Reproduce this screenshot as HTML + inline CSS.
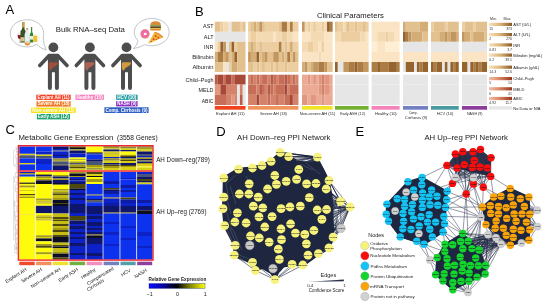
<!DOCTYPE html>
<html><head><meta charset="utf-8"><title>Figure</title>
<style>
html,body{margin:0;padding:0;background:#fff;}
body{width:550px;height:305px;overflow:hidden;}
svg{display:block;font-family:"Liberation Sans", Arial, sans-serif;}
</style></head><body>
<svg width="550" height="305" viewBox="0 0 550 305">
<rect width="550" height="305" fill="#fff"/>
<text x="5.5" y="14.4" font-size="13" text-anchor="start" fill="#000" >A</text>
<text x="195" y="16.4" font-size="13" text-anchor="start" fill="#000" >B</text>
<text x="5.6" y="134" font-size="13" text-anchor="start" fill="#000" >C</text>
<text x="216.2" y="136" font-size="13" text-anchor="start" fill="#000" >D</text>
<text x="355.6" y="136" font-size="13" text-anchor="start" fill="#000" >E</text>
<text x="55.7" y="31.6" font-size="7.75" text-anchor="start" fill="#1a1a1a" textLength="69.2" lengthAdjust="spacingAndGlyphs" >Bulk RNA–seq Data</text>
<text x="317" y="17.6" font-size="7.75" text-anchor="start" fill="#1a1a1a" textLength="67" lengthAdjust="spacingAndGlyphs" >Clinical Parameters</text>
<text x="18.4" y="140.4" font-size="7.75" text-anchor="start" fill="#1a1a1a" textLength="95" lengthAdjust="spacingAndGlyphs" >Metabolic Gene Expression</text>
<text x="117" y="140.4" font-size="6.5" text-anchor="start" fill="#1a1a1a" textLength="40.6" lengthAdjust="spacingAndGlyphs" >(3558 Genes)</text>
<text x="237" y="140.4" font-size="7.75" text-anchor="start" fill="#1a1a1a" textLength="93.5" lengthAdjust="spacingAndGlyphs" >AH Down–reg PPI Network</text>
<text x="424.4" y="140.4" font-size="7.75" text-anchor="start" fill="#1a1a1a" textLength="83.6" lengthAdjust="spacingAndGlyphs" >AH Up–reg PPI Network</text>
<text x="156.2" y="162.1" font-size="6.3" text-anchor="start" fill="#1a1a1a" textLength="53.6" lengthAdjust="spacingAndGlyphs" >AH Down–reg(789)</text>
<text x="156.2" y="214.2" font-size="6.3" text-anchor="start" fill="#1a1a1a" textLength="50.4" lengthAdjust="spacingAndGlyphs" >AH Up–reg (2769)</text>
<g>
<circle cx="53.4" cy="47.4" r="4.9" fill="#4d4d4d"/>
<path d="M49.199999999999996 55.6 L39.8 65.5 M57.6 55.6 L67.0 65.5" stroke="#4d4d4d" stroke-width="3.6" stroke-linecap="round" fill="none"/>
<path d="M47.9 55.2 Q47.9 53.7 49.699999999999996 53.7 L57.1 53.7 Q58.9 53.7 58.9 55.2 L58.9 88 Q58.9 90 56.9 90 Q54.9 90 54.9 88 L54.9 72.2 L51.9 72.2 L51.9 88 Q51.9 90 49.9 90 Q47.9 90 47.9 88 Z" fill="#4d4d4d"/>
<path d="M48.6 63.4 Q48.699999999999996 62.2 50.4 62.2 L56.8 62.3 Q58.3 62.5 57.9 63.9 Q56.0 66 53.0 67.4 Q51.8 68.4 51.199999999999996 69.8 Q50.199999999999996 71 49.3 69.8 Q48.4 67 48.6 63.4 Z" fill="#9e4f3c"/>
</g>
<g>
<circle cx="89.9" cy="47.4" r="4.9" fill="#4d4d4d"/>
<path d="M85.7 55.6 L76.30000000000001 65.5 M94.10000000000001 55.6 L103.5 65.5" stroke="#4d4d4d" stroke-width="3.6" stroke-linecap="round" fill="none"/>
<path d="M84.4 55.2 Q84.4 53.7 86.2 53.7 L93.60000000000001 53.7 Q95.4 53.7 95.4 55.2 L95.4 88 Q95.4 90 93.4 90 Q91.4 90 91.4 88 L91.4 72.2 L88.4 72.2 L88.4 88 Q88.4 90 86.4 90 Q84.4 90 84.4 88 Z" fill="#4d4d4d"/>
<path d="M85.10000000000001 63.4 Q85.2 62.2 86.9 62.2 L93.30000000000001 62.3 Q94.80000000000001 62.5 94.4 63.9 Q92.5 66 89.5 67.4 Q88.30000000000001 68.4 87.7 69.8 Q86.7 71 85.80000000000001 69.8 Q84.9 67 85.10000000000001 63.4 Z" fill="#b06252"/>
</g>
<g>
<circle cx="126.5" cy="47.4" r="4.9" fill="#4d4d4d"/>
<path d="M122.3 55.6 L112.9 65.5 M130.7 55.6 L140.1 65.5" stroke="#4d4d4d" stroke-width="3.6" stroke-linecap="round" fill="none"/>
<path d="M121.0 55.2 Q121.0 53.7 122.8 53.7 L130.2 53.7 Q132.0 53.7 132.0 55.2 L132.0 88 Q132.0 90 130.0 90 Q128.0 90 128.0 88 L128.0 72.2 L125.0 72.2 L125.0 88 Q125.0 90 123.0 90 Q121.0 90 121.0 88 Z" fill="#4d4d4d"/>
<path d="M121.7 63.4 Q121.8 62.2 123.5 62.2 L129.9 62.3 Q131.4 62.5 131.0 63.9 Q129.1 66 126.1 67.4 Q124.9 68.4 124.3 69.8 Q123.3 71 122.4 69.8 Q121.5 67 121.7 63.4 Z" fill="#d09a3c"/>
</g>
<path d="M36.5 44.5 A16.8 13.6 0 1 1 43.2 36.9 Q43.6 45 46.2 50 Q40.5 48.4 36.5 44.5 Z" fill="#fff" stroke="#858b98" stroke-width="0.5"/>
<path d="M138 40.6 A17.5 13.7 0 1 1 144.8 44.7 Q139.5 47.6 133.5 48.6 Q137.4 45 138 40.6 Z" fill="#fff" stroke="#858b98" stroke-width="0.5"/>
<g>
<path d="M17.6 35 Q17.6 39 19.7 39 Q21.8 39 21.8 35 Z" fill="#8a1c2c"/><path d="M17.6 32.9 L21.8 32.9 L21.8 35.1 L17.6 35.1 Z" fill="#ece4e6"/><path d="M19.7 39 L19.7 42.3 M18.4 42.4 L21 42.4" stroke="#b9b9b9" stroke-width="0.5"/>
<path d="M22.4 22 L24.3 22 L24.3 27.5 Q24.4 29.6 25.6 31 L25.6 42.6 L20.5 42.6 L20.5 31 Q22.3 29.6 22.4 27.5 Z" fill="#385221"/><rect x="22.3" y="21.9" width="2.1" height="5.6" fill="#c9a545"/><rect x="20.5" y="37.2" width="4" height="4.2" fill="#d9c48a"/>
<path d="M26.2 29.2 L28.2 29.2 L28.2 31.5 Q29.8 33 29.8 35 L29.8 42.8 L24.7 42.8 L24.7 35 Q24.7 33 26.2 31.5 Z" fill="#e9f0f4" stroke="#c9d3da" stroke-width="0.3"/><circle cx="27.2" cy="28.8" r="1.1" fill="#d9a04a"/>
<path d="M31 27 L32.2 27 L32.2 32 Q33.3 33.4 33.3 35 L33.3 42.4 L29.9 42.4 L29.9 35 Q29.9 33.4 31 32 Z" fill="#2f8a3a"/><rect x="29.9" y="36" width="3.4" height="3.6" fill="#e8efe2"/>
<rect x="33.4" y="35" width="3.9" height="7" rx="0.6" fill="#efc22e"/><rect x="33.2" y="33.8" width="4.3" height="1.9" rx="0.8" fill="#fbf6e6"/><path d="M37.3 36.4 Q39.2 36.4 39.2 38.4 Q39.2 40.4 37.3 40.4" fill="none" stroke="#e9e4d2" stroke-width="0.7"/>
<ellipse cx="27.4" cy="43.6" rx="2.7" ry="2" fill="#e08a2c"/><ellipse cx="27.4" cy="42.7" rx="2.2" ry="0.8" fill="#f3dcc0"/>
</g>
<g>
<path d="M150.3 25.4 Q150.3 21.2 155.6 21.2 Q160.9 21.2 160.9 25.4 Z" fill="#d98a3a"/><rect x="150.1" y="25.3" width="11" height="1.3" fill="#5b9a33"/><rect x="150.3" y="26.5" width="10.6" height="1.9" fill="#6b3a22"/><rect x="150.1" y="28.1" width="11" height="0.8" fill="#e9c534"/><path d="M150.3 28.9 L160.9 28.9 L160.9 29.8 Q160.9 30.6 160 30.6 L151.2 30.6 Q150.3 30.6 150.3 29.8 Z" fill="#d98a3a"/>
<circle cx="145" cy="34" r="4.7" fill="#e3a35e"/><circle cx="145" cy="33.8" r="4.2" fill="#f06aa8"/><ellipse cx="145.2" cy="33.9" rx="1.5" ry="1.2" fill="#fff"/>
<path d="M154.4 32.2 Q159.5 33.2 163 37.4 L148 43.7 Z" fill="#f2b33a"/><path d="M154.4 32.2 Q159.5 33.2 163 37.4" fill="none" stroke="#d98a2e" stroke-width="1.1"/><circle cx="155.6" cy="36" r="0.9" fill="#d8392b"/><circle cx="158.3" cy="37.6" r="0.9" fill="#d8392b"/><circle cx="153.6" cy="39.2" r="0.9" fill="#d8392b"/><circle cx="151.3" cy="41.6" r="0.7" fill="#d8392b"/><circle cx="156.4" cy="39.3" r="0.6" fill="#d8392b"/>
</g>
<rect x="36.3" y="94.7" width="34.4" height="5.2" fill="#f23d1f"/>
<text x="53.5" y="98.65" font-size="4.5" text-anchor="middle" fill="#fff" font-weight="bold" textLength="32.0" lengthAdjust="spacingAndGlyphs" >Explant AH (11)</text>
<rect x="36.5" y="101.3" width="34.2" height="5.3" fill="#f37a22"/>
<text x="53.6" y="105.35" font-size="4.5" text-anchor="middle" fill="#fff" font-weight="bold" textLength="31.8" lengthAdjust="spacingAndGlyphs" >Severe AH (18)</text>
<rect x="31.1" y="107.6" width="44.7" height="5.4" fill="#f6e21a"/>
<text x="53.45" y="111.75" font-size="4.5" text-anchor="middle" fill="#fff" font-weight="bold" textLength="42.3" lengthAdjust="spacingAndGlyphs" >Non-severe AH (11)</text>
<rect x="36.9" y="114.0" width="33.1" height="5.4" fill="#22a273"/>
<text x="53.45" y="118.15" font-size="4.5" text-anchor="middle" fill="#fff" font-weight="bold" textLength="30.7" lengthAdjust="spacingAndGlyphs" >Early ASH (12)</text>
<rect x="75.4" y="94.7" width="28.5" height="5.2" fill="#f77fbe"/>
<text x="89.65" y="98.65" font-size="4.5" text-anchor="middle" fill="#fff" font-weight="bold" textLength="26.1" lengthAdjust="spacingAndGlyphs" >Healthy (10)</text>
<rect x="116.1" y="94.7" width="21.5" height="5.2" fill="#2a9fa8"/>
<text x="126.85" y="98.65" font-size="4.5" text-anchor="middle" fill="#fff" font-weight="bold" textLength="19.1" lengthAdjust="spacingAndGlyphs" >HCV (10)</text>
<rect x="116.1" y="101.2" width="21.5" height="5.2" fill="#8a2fc2"/>
<text x="126.85" y="105.15" font-size="4.5" text-anchor="middle" fill="#fff" font-weight="bold" textLength="19.1" lengthAdjust="spacingAndGlyphs" >NASH (9)</text>
<rect x="104.4" y="107.3" width="44.2" height="5.7" fill="#2f5fc4"/>
<text x="126.5" y="111.75" font-size="4.5" text-anchor="middle" fill="#fff" font-weight="bold" textLength="41.8" lengthAdjust="spacingAndGlyphs" >Comp. Cirrhosis (9)</text>
<filter id="bl" x="-5%" y="-5%" width="110%" height="110%"><feGaussianBlur stdDeviation="0.45"/></filter><g filter="url(#bl)">
<rect x="214.8" y="21.7" width="5.63" height="10.15" fill="#e3c18f"/>
<rect x="220.38" y="21.7" width="2.84" height="10.15" fill="#eccea1"/>
<rect x="223.17" y="21.7" width="5.63" height="10.15" fill="#f4dab2"/>
<rect x="228.75" y="21.7" width="2.84" height="10.15" fill="#e6e6e6"/>
<rect x="231.55" y="21.7" width="8.42" height="10.15" fill="#e3c18f"/>
<rect x="239.92" y="21.7" width="2.84" height="10.15" fill="#eccea1"/>
<rect x="242.71" y="21.7" width="2.84" height="10.15" fill="#e3c18f"/>
<rect x="214.8" y="31.8" width="30.75" height="10.05" fill="#e6e6e6"/>
<rect x="214.8" y="41.8" width="2.84" height="10.15" fill="#fae4c3"/>
<rect x="217.59" y="41.8" width="2.84" height="10.15" fill="#eccea1"/>
<rect x="220.38" y="41.8" width="2.84" height="10.15" fill="#94642d"/>
<rect x="223.17" y="41.8" width="2.84" height="10.15" fill="#c1965e"/>
<rect x="225.96" y="41.8" width="2.84" height="10.15" fill="#e6e6e6"/>
<rect x="228.75" y="41.8" width="2.84" height="10.15" fill="#e3c18f"/>
<rect x="231.55" y="41.8" width="2.84" height="10.15" fill="#94642d"/>
<rect x="234.34" y="41.8" width="2.84" height="10.15" fill="#eccea1"/>
<rect x="237.13" y="41.8" width="8.42" height="10.15" fill="#e3c18f"/>
<rect x="214.8" y="51.9" width="2.84" height="10.15" fill="#d3ac76"/>
<rect x="217.59" y="51.9" width="5.63" height="10.15" fill="#ab7d44"/>
<rect x="223.17" y="51.9" width="2.84" height="10.15" fill="#d3ac76"/>
<rect x="225.96" y="51.9" width="2.84" height="10.15" fill="#c1965e"/>
<rect x="228.75" y="51.9" width="2.84" height="10.15" fill="#e3c18f"/>
<rect x="231.55" y="51.9" width="2.84" height="10.15" fill="#d3ac76"/>
<rect x="234.34" y="51.9" width="2.84" height="10.15" fill="#94642d"/>
<rect x="237.13" y="51.9" width="8.42" height="10.15" fill="#e3c18f"/>
<rect x="214.8" y="62.0" width="8.42" height="9.95" fill="#e3c18f"/>
<rect x="223.17" y="62.0" width="2.84" height="9.95" fill="#fae4c3"/>
<rect x="225.96" y="62.0" width="2.84" height="9.95" fill="#e6e6e6"/>
<rect x="228.75" y="62.0" width="2.84" height="9.95" fill="#eccea1"/>
<rect x="231.55" y="62.0" width="5.63" height="9.95" fill="#d3ac76"/>
<rect x="237.13" y="62.0" width="8.42" height="9.95" fill="#e3c18f"/>
<rect x="214.8" y="74.7" width="2.84" height="9.95" fill="#b75b46"/>
<rect x="217.59" y="74.7" width="5.63" height="9.95" fill="#a64937"/>
<rect x="223.17" y="74.7" width="2.84" height="9.95" fill="#c66e58"/>
<rect x="225.96" y="74.7" width="5.63" height="9.95" fill="#a64937"/>
<rect x="231.55" y="74.7" width="2.84" height="9.95" fill="#c66e58"/>
<rect x="234.34" y="74.7" width="11.21" height="9.95" fill="#a64937"/>
<rect x="214.8" y="84.6" width="5.63" height="10.25" fill="#e1967f"/>
<rect x="220.38" y="84.6" width="5.63" height="10.25" fill="#a64937"/>
<rect x="225.96" y="84.6" width="11.21" height="10.25" fill="#d4826b"/>
<rect x="237.13" y="84.6" width="2.84" height="10.25" fill="#e6e6e6"/>
<rect x="239.92" y="84.6" width="2.84" height="10.25" fill="#d4826b"/>
<rect x="242.71" y="84.6" width="2.84" height="10.25" fill="#e6e6e6"/>
<rect x="214.8" y="94.8" width="11.21" height="10.25" fill="#c66e58"/>
<rect x="225.96" y="94.8" width="5.63" height="10.25" fill="#d4826b"/>
<rect x="231.55" y="94.8" width="2.84" height="10.25" fill="#e1967f"/>
<rect x="234.34" y="94.8" width="2.84" height="10.25" fill="#d4826b"/>
<rect x="237.13" y="94.8" width="2.84" height="10.25" fill="#e6e6e6"/>
<rect x="239.92" y="94.8" width="2.84" height="10.25" fill="#b75b46"/>
<rect x="242.71" y="94.8" width="2.84" height="10.25" fill="#e6e6e6"/>
<rect x="214.8" y="106" width="30.7" height="3.7" fill="#f0431f"/>
<rect x="248.1" y="21.7" width="2.84" height="10.15" fill="#eccea1"/>
<rect x="250.89" y="21.7" width="2.84" height="10.15" fill="#e3c18f"/>
<rect x="253.69" y="21.7" width="2.84" height="10.15" fill="#d3ac76"/>
<rect x="256.48" y="21.7" width="2.84" height="10.15" fill="#e3c18f"/>
<rect x="259.28" y="21.7" width="2.84" height="10.15" fill="#c1965e"/>
<rect x="262.07" y="21.7" width="2.84" height="10.15" fill="#e3c18f"/>
<rect x="264.87" y="21.7" width="14.02" height="10.15" fill="#eccea1"/>
<rect x="278.84" y="21.7" width="2.84" height="10.15" fill="#e3c18f"/>
<rect x="281.63" y="21.7" width="5.64" height="10.15" fill="#ab7d44"/>
<rect x="287.22" y="21.7" width="2.84" height="10.15" fill="#eccea1"/>
<rect x="290.02" y="21.7" width="2.84" height="10.15" fill="#ab7d44"/>
<rect x="292.81" y="21.7" width="5.64" height="10.15" fill="#eccea1"/>
<rect x="248.1" y="31.8" width="2.84" height="10.05" fill="#f4dab2"/>
<rect x="250.89" y="31.8" width="5.64" height="10.05" fill="#eccea1"/>
<rect x="256.48" y="31.8" width="16.82" height="10.05" fill="#f4dab2"/>
<rect x="273.25" y="31.8" width="2.84" height="10.05" fill="#fae4c3"/>
<rect x="276.04" y="31.8" width="5.64" height="10.05" fill="#f4dab2"/>
<rect x="281.63" y="31.8" width="5.64" height="10.05" fill="#eccea1"/>
<rect x="287.22" y="31.8" width="5.64" height="10.05" fill="#f4dab2"/>
<rect x="292.81" y="31.8" width="5.64" height="10.05" fill="#fae4c3"/>
<rect x="248.1" y="41.8" width="2.84" height="10.15" fill="#e3c18f"/>
<rect x="250.89" y="41.8" width="2.84" height="10.15" fill="#d3ac76"/>
<rect x="253.69" y="41.8" width="2.84" height="10.15" fill="#e3c18f"/>
<rect x="256.48" y="41.8" width="2.84" height="10.15" fill="#eccea1"/>
<rect x="259.28" y="41.8" width="2.84" height="10.15" fill="#e3c18f"/>
<rect x="262.07" y="41.8" width="16.82" height="10.15" fill="#eccea1"/>
<rect x="278.84" y="41.8" width="2.84" height="10.15" fill="#ab7d44"/>
<rect x="281.63" y="41.8" width="2.84" height="10.15" fill="#eccea1"/>
<rect x="284.43" y="41.8" width="2.84" height="10.15" fill="#e3c18f"/>
<rect x="287.22" y="41.8" width="2.84" height="10.15" fill="#eccea1"/>
<rect x="290.02" y="41.8" width="2.84" height="10.15" fill="#d3ac76"/>
<rect x="292.81" y="41.8" width="5.64" height="10.15" fill="#eccea1"/>
<rect x="248.1" y="51.9" width="2.84" height="10.15" fill="#c1965e"/>
<rect x="250.89" y="51.9" width="5.64" height="10.15" fill="#d3ac76"/>
<rect x="256.48" y="51.9" width="2.84" height="10.15" fill="#94642d"/>
<rect x="259.28" y="51.9" width="2.84" height="10.15" fill="#e3c18f"/>
<rect x="262.07" y="51.9" width="2.84" height="10.15" fill="#d3ac76"/>
<rect x="264.87" y="51.9" width="2.84" height="10.15" fill="#c1965e"/>
<rect x="267.66" y="51.9" width="5.64" height="10.15" fill="#e3c18f"/>
<rect x="273.25" y="51.9" width="5.64" height="10.15" fill="#c1965e"/>
<rect x="278.84" y="51.9" width="2.84" height="10.15" fill="#e3c18f"/>
<rect x="281.63" y="51.9" width="2.84" height="10.15" fill="#d3ac76"/>
<rect x="284.43" y="51.9" width="2.84" height="10.15" fill="#e3c18f"/>
<rect x="287.22" y="51.9" width="2.84" height="10.15" fill="#ab7d44"/>
<rect x="290.02" y="51.9" width="2.84" height="10.15" fill="#e3c18f"/>
<rect x="292.81" y="51.9" width="2.84" height="10.15" fill="#c1965e"/>
<rect x="295.61" y="51.9" width="2.84" height="10.15" fill="#e3c18f"/>
<rect x="248.1" y="62.0" width="5.64" height="9.95" fill="#e3c18f"/>
<rect x="253.69" y="62.0" width="2.84" height="9.95" fill="#eccea1"/>
<rect x="256.48" y="62.0" width="2.84" height="9.95" fill="#e3c18f"/>
<rect x="259.28" y="62.0" width="2.84" height="9.95" fill="#eccea1"/>
<rect x="262.07" y="62.0" width="2.84" height="9.95" fill="#e3c18f"/>
<rect x="264.87" y="62.0" width="5.64" height="9.95" fill="#eccea1"/>
<rect x="270.46" y="62.0" width="2.84" height="9.95" fill="#e3c18f"/>
<rect x="273.25" y="62.0" width="2.84" height="9.95" fill="#eccea1"/>
<rect x="276.04" y="62.0" width="2.84" height="9.95" fill="#e3c18f"/>
<rect x="278.84" y="62.0" width="5.64" height="9.95" fill="#eccea1"/>
<rect x="284.43" y="62.0" width="2.84" height="9.95" fill="#e3c18f"/>
<rect x="287.22" y="62.0" width="11.23" height="9.95" fill="#eccea1"/>
<rect x="248.1" y="74.7" width="2.84" height="9.95" fill="#d4826b"/>
<rect x="250.89" y="74.7" width="2.84" height="9.95" fill="#c66e58"/>
<rect x="253.69" y="74.7" width="2.84" height="9.95" fill="#d4826b"/>
<rect x="256.48" y="74.7" width="2.84" height="9.95" fill="#c66e58"/>
<rect x="259.28" y="74.7" width="2.84" height="9.95" fill="#d4826b"/>
<rect x="262.07" y="74.7" width="5.64" height="9.95" fill="#c66e58"/>
<rect x="267.66" y="74.7" width="2.84" height="9.95" fill="#d4826b"/>
<rect x="270.46" y="74.7" width="2.84" height="9.95" fill="#b75b46"/>
<rect x="273.25" y="74.7" width="2.84" height="9.95" fill="#c66e58"/>
<rect x="276.04" y="74.7" width="2.84" height="9.95" fill="#d4826b"/>
<rect x="278.84" y="74.7" width="5.64" height="9.95" fill="#c66e58"/>
<rect x="284.43" y="74.7" width="2.84" height="9.95" fill="#b75b46"/>
<rect x="287.22" y="74.7" width="2.84" height="9.95" fill="#c66e58"/>
<rect x="290.02" y="74.7" width="2.84" height="9.95" fill="#d4826b"/>
<rect x="292.81" y="74.7" width="2.84" height="9.95" fill="#c66e58"/>
<rect x="295.61" y="74.7" width="2.84" height="9.95" fill="#d4826b"/>
<rect x="248.1" y="84.6" width="8.43" height="10.25" fill="#c66e58"/>
<rect x="256.48" y="84.6" width="2.84" height="10.25" fill="#d4826b"/>
<rect x="259.28" y="84.6" width="2.84" height="10.25" fill="#b75b46"/>
<rect x="262.07" y="84.6" width="2.84" height="10.25" fill="#c66e58"/>
<rect x="264.87" y="84.6" width="2.84" height="10.25" fill="#d4826b"/>
<rect x="267.66" y="84.6" width="2.84" height="10.25" fill="#b75b46"/>
<rect x="270.46" y="84.6" width="2.84" height="10.25" fill="#c66e58"/>
<rect x="273.25" y="84.6" width="2.84" height="10.25" fill="#d4826b"/>
<rect x="276.04" y="84.6" width="8.43" height="10.25" fill="#c66e58"/>
<rect x="284.43" y="84.6" width="2.84" height="10.25" fill="#a64937"/>
<rect x="287.22" y="84.6" width="2.84" height="10.25" fill="#d4826b"/>
<rect x="290.02" y="84.6" width="8.43" height="10.25" fill="#c66e58"/>
<rect x="248.1" y="94.8" width="8.43" height="10.25" fill="#d4826b"/>
<rect x="256.48" y="94.8" width="2.84" height="10.25" fill="#a64937"/>
<rect x="259.28" y="94.8" width="8.43" height="10.25" fill="#d4826b"/>
<rect x="267.66" y="94.8" width="2.84" height="10.25" fill="#c66e58"/>
<rect x="270.46" y="94.8" width="5.64" height="10.25" fill="#d4826b"/>
<rect x="276.04" y="94.8" width="2.84" height="10.25" fill="#c66e58"/>
<rect x="278.84" y="94.8" width="5.64" height="10.25" fill="#d4826b"/>
<rect x="284.43" y="94.8" width="5.64" height="10.25" fill="#c66e58"/>
<rect x="290.02" y="94.8" width="2.84" height="10.25" fill="#a64937"/>
<rect x="292.81" y="94.8" width="5.64" height="10.25" fill="#d4826b"/>
<rect x="248.1" y="106" width="50.3" height="3.7" fill="#f0935a"/>
<rect x="302.0" y="21.7" width="2.83" height="10.15" fill="#c1965e"/>
<rect x="304.78" y="21.7" width="2.83" height="10.15" fill="#f4dab2"/>
<rect x="307.56" y="21.7" width="2.83" height="10.15" fill="#eccea1"/>
<rect x="310.35" y="21.7" width="2.83" height="10.15" fill="#f4dab2"/>
<rect x="313.13" y="21.7" width="2.83" height="10.15" fill="#eccea1"/>
<rect x="315.91" y="21.7" width="5.61" height="10.15" fill="#f4dab2"/>
<rect x="321.47" y="21.7" width="2.83" height="10.15" fill="#eccea1"/>
<rect x="324.25" y="21.7" width="2.83" height="10.15" fill="#f4dab2"/>
<rect x="327.04" y="21.7" width="2.83" height="10.15" fill="#94642d"/>
<rect x="329.82" y="21.7" width="2.83" height="10.15" fill="#ab7d44"/>
<rect x="302.0" y="31.8" width="8.4" height="10.05" fill="#fae4c3"/>
<rect x="310.35" y="31.8" width="13.96" height="10.05" fill="#f4dab2"/>
<rect x="324.25" y="31.8" width="8.4" height="10.05" fill="#fae4c3"/>
<rect x="302.0" y="41.8" width="5.61" height="10.15" fill="#f4dab2"/>
<rect x="307.56" y="41.8" width="5.61" height="10.15" fill="#eccea1"/>
<rect x="313.13" y="41.8" width="5.61" height="10.15" fill="#f4dab2"/>
<rect x="318.69" y="41.8" width="2.83" height="10.15" fill="#fae4c3"/>
<rect x="321.47" y="41.8" width="2.83" height="10.15" fill="#eccea1"/>
<rect x="324.25" y="41.8" width="8.4" height="10.15" fill="#fae4c3"/>
<rect x="302.0" y="51.9" width="16.74" height="10.15" fill="#fae4c3"/>
<rect x="318.69" y="51.9" width="2.83" height="10.15" fill="#f4dab2"/>
<rect x="321.47" y="51.9" width="11.18" height="10.15" fill="#fae4c3"/>
<rect x="302.0" y="62.0" width="2.83" height="9.95" fill="#d3ac76"/>
<rect x="304.78" y="62.0" width="2.83" height="9.95" fill="#c1965e"/>
<rect x="307.56" y="62.0" width="2.83" height="9.95" fill="#e3c18f"/>
<rect x="310.35" y="62.0" width="2.83" height="9.95" fill="#d3ac76"/>
<rect x="313.13" y="62.0" width="5.61" height="9.95" fill="#c1965e"/>
<rect x="318.69" y="62.0" width="5.61" height="9.95" fill="#ab7d44"/>
<rect x="324.25" y="62.0" width="2.83" height="9.95" fill="#c1965e"/>
<rect x="327.04" y="62.0" width="5.61" height="9.95" fill="#e3c18f"/>
<rect x="302.0" y="74.7" width="5.61" height="9.95" fill="#ebaa94"/>
<rect x="307.56" y="74.7" width="2.83" height="9.95" fill="#e1967f"/>
<rect x="310.35" y="74.7" width="2.83" height="9.95" fill="#ebaa94"/>
<rect x="313.13" y="74.7" width="2.83" height="9.95" fill="#e1967f"/>
<rect x="315.91" y="74.7" width="2.83" height="9.95" fill="#ebaa94"/>
<rect x="318.69" y="74.7" width="2.83" height="9.95" fill="#e1967f"/>
<rect x="321.47" y="74.7" width="2.83" height="9.95" fill="#d4826b"/>
<rect x="324.25" y="74.7" width="5.61" height="9.95" fill="#e1967f"/>
<rect x="329.82" y="74.7" width="2.83" height="9.95" fill="#ebaa94"/>
<rect x="302.0" y="84.6" width="16.74" height="10.25" fill="#ebaa94"/>
<rect x="318.69" y="84.6" width="2.83" height="10.25" fill="#e1967f"/>
<rect x="321.47" y="84.6" width="2.83" height="10.25" fill="#d4826b"/>
<rect x="324.25" y="84.6" width="5.61" height="10.25" fill="#e1967f"/>
<rect x="329.82" y="84.6" width="2.83" height="10.25" fill="#ebaa94"/>
<rect x="302.0" y="94.8" width="5.61" height="10.25" fill="#e1967f"/>
<rect x="307.56" y="94.8" width="2.83" height="10.25" fill="#ebaa94"/>
<rect x="310.35" y="94.8" width="5.61" height="10.25" fill="#e1967f"/>
<rect x="315.91" y="94.8" width="5.61" height="10.25" fill="#ebaa94"/>
<rect x="321.47" y="94.8" width="2.83" height="10.25" fill="#e1967f"/>
<rect x="324.25" y="94.8" width="8.4" height="10.25" fill="#ebaa94"/>
<rect x="302.0" y="106" width="30.6" height="3.7" fill="#f1e328"/>
<rect x="335.0" y="21.7" width="2.85" height="10.15" fill="#e3c18f"/>
<rect x="337.8" y="21.7" width="5.65" height="10.15" fill="#eccea1"/>
<rect x="343.4" y="21.7" width="2.85" height="10.15" fill="#f4dab2"/>
<rect x="346.2" y="21.7" width="2.85" height="10.15" fill="#e3c18f"/>
<rect x="349.0" y="21.7" width="5.65" height="10.15" fill="#eccea1"/>
<rect x="354.6" y="21.7" width="2.85" height="10.15" fill="#e3c18f"/>
<rect x="357.4" y="21.7" width="5.65" height="10.15" fill="#eccea1"/>
<rect x="363.0" y="21.7" width="2.85" height="10.15" fill="#e3c18f"/>
<rect x="365.8" y="21.7" width="2.85" height="10.15" fill="#eccea1"/>
<rect x="335.0" y="31.8" width="5.65" height="10.05" fill="#f4dab2"/>
<rect x="340.6" y="31.8" width="19.65" height="10.05" fill="#eccea1"/>
<rect x="360.2" y="31.8" width="5.65" height="10.05" fill="#f4dab2"/>
<rect x="365.8" y="31.8" width="2.85" height="10.05" fill="#fae4c3"/>
<rect x="335.0" y="41.8" width="33.65" height="10.15" fill="#fae4c3"/>
<rect x="335.0" y="51.9" width="33.65" height="10.15" fill="#fae4c3"/>
<rect x="335.0" y="62.0" width="2.85" height="9.95" fill="#94642d"/>
<rect x="337.8" y="62.0" width="5.65" height="9.95" fill="#e6e6e6"/>
<rect x="343.4" y="62.0" width="5.65" height="9.95" fill="#c1965e"/>
<rect x="349.0" y="62.0" width="5.65" height="9.95" fill="#ab7d44"/>
<rect x="354.6" y="62.0" width="2.85" height="9.95" fill="#94642d"/>
<rect x="357.4" y="62.0" width="5.65" height="9.95" fill="#ab7d44"/>
<rect x="363.0" y="62.0" width="5.65" height="9.95" fill="#c1965e"/>
<rect x="335.0" y="74.7" width="33.65" height="9.95" fill="#e6e6e6"/>
<rect x="335.0" y="84.6" width="33.65" height="10.25" fill="#e6e6e6"/>
<rect x="335.0" y="94.8" width="33.65" height="10.25" fill="#e6e6e6"/>
<rect x="335.0" y="106" width="33.6" height="3.7" fill="#72b02f"/>
<rect x="371.6" y="21.7" width="28.05" height="10.15" fill="#fae4c3"/>
<rect x="371.6" y="31.8" width="5.65" height="10.05" fill="#fae4c3"/>
<rect x="377.2" y="31.8" width="8.45" height="10.05" fill="#f4dab2"/>
<rect x="385.6" y="31.8" width="2.85" height="10.05" fill="#eccea1"/>
<rect x="388.4" y="31.8" width="5.65" height="10.05" fill="#f4dab2"/>
<rect x="394.0" y="31.8" width="5.65" height="10.05" fill="#fae4c3"/>
<rect x="371.6" y="41.8" width="5.65" height="10.15" fill="#fdeed4"/>
<rect x="377.2" y="41.8" width="8.45" height="10.15" fill="#fae4c3"/>
<rect x="385.6" y="41.8" width="14.05" height="10.15" fill="#fdeed4"/>
<rect x="371.6" y="51.9" width="28.05" height="10.15" fill="#fae4c3"/>
<rect x="371.6" y="62.0" width="5.65" height="9.95" fill="#ab7d44"/>
<rect x="377.2" y="62.0" width="2.85" height="9.95" fill="#94642d"/>
<rect x="380.0" y="62.0" width="8.45" height="9.95" fill="#ab7d44"/>
<rect x="388.4" y="62.0" width="8.45" height="9.95" fill="#94642d"/>
<rect x="396.8" y="62.0" width="2.85" height="9.95" fill="#ab7d44"/>
<rect x="371.6" y="74.7" width="28.05" height="9.95" fill="#e6e6e6"/>
<rect x="371.6" y="84.6" width="28.05" height="10.25" fill="#e6e6e6"/>
<rect x="371.6" y="94.8" width="28.05" height="10.25" fill="#e6e6e6"/>
<rect x="371.6" y="106" width="28.0" height="3.7" fill="#f383b8"/>
<rect x="403.0" y="21.7" width="2.83" height="10.15" fill="#d3ac76"/>
<rect x="405.78" y="21.7" width="13.94" height="10.15" fill="#e3c18f"/>
<rect x="419.67" y="21.7" width="8.38" height="10.15" fill="#d3ac76"/>
<rect x="403.0" y="31.8" width="2.83" height="10.05" fill="#94642d"/>
<rect x="405.78" y="31.8" width="2.83" height="10.05" fill="#ab7d44"/>
<rect x="408.56" y="31.8" width="2.83" height="10.05" fill="#c1965e"/>
<rect x="411.33" y="31.8" width="11.16" height="10.05" fill="#d3ac76"/>
<rect x="422.44" y="31.8" width="5.61" height="10.05" fill="#e3c18f"/>
<rect x="403.0" y="41.8" width="25.05" height="10.15" fill="#e6e6e6"/>
<rect x="403.0" y="51.9" width="25.05" height="10.15" fill="#fae4c3"/>
<rect x="403.0" y="62.0" width="2.83" height="9.95" fill="#e6e6e6"/>
<rect x="405.78" y="62.0" width="8.38" height="9.95" fill="#94642d"/>
<rect x="414.11" y="62.0" width="2.83" height="9.95" fill="#e6e6e6"/>
<rect x="416.89" y="62.0" width="2.83" height="9.95" fill="#94642d"/>
<rect x="419.67" y="62.0" width="2.83" height="9.95" fill="#ab7d44"/>
<rect x="422.44" y="62.0" width="5.61" height="9.95" fill="#94642d"/>
<rect x="403.0" y="74.7" width="25.05" height="9.95" fill="#e6e6e6"/>
<rect x="403.0" y="84.6" width="25.05" height="10.25" fill="#e6e6e6"/>
<rect x="403.0" y="94.8" width="25.05" height="10.25" fill="#e6e6e6"/>
<rect x="403.0" y="106" width="25.0" height="3.7" fill="#7280c2"/>
<rect x="431.0" y="21.7" width="2.82" height="10.15" fill="#eccea1"/>
<rect x="433.77" y="21.7" width="11.13" height="10.15" fill="#e3c18f"/>
<rect x="444.85" y="21.7" width="2.82" height="10.15" fill="#eccea1"/>
<rect x="447.62" y="21.7" width="11.13" height="10.15" fill="#e3c18f"/>
<rect x="431.0" y="31.8" width="8.36" height="10.05" fill="#e3c18f"/>
<rect x="439.31" y="31.8" width="5.59" height="10.05" fill="#d3ac76"/>
<rect x="444.85" y="31.8" width="2.82" height="10.05" fill="#c1965e"/>
<rect x="447.62" y="31.8" width="2.82" height="10.05" fill="#d3ac76"/>
<rect x="450.39" y="31.8" width="5.59" height="10.05" fill="#c1965e"/>
<rect x="455.93" y="31.8" width="2.82" height="10.05" fill="#d3ac76"/>
<rect x="431.0" y="41.8" width="27.75" height="10.15" fill="#e6e6e6"/>
<rect x="431.0" y="51.9" width="27.75" height="10.15" fill="#fae4c3"/>
<rect x="431.0" y="62.0" width="2.82" height="9.95" fill="#94642d"/>
<rect x="433.77" y="62.0" width="2.82" height="9.95" fill="#ab7d44"/>
<rect x="436.54" y="62.0" width="5.59" height="9.95" fill="#94642d"/>
<rect x="442.08" y="62.0" width="2.82" height="9.95" fill="#e6e6e6"/>
<rect x="444.85" y="62.0" width="2.82" height="9.95" fill="#94642d"/>
<rect x="447.62" y="62.0" width="2.82" height="9.95" fill="#e6e6e6"/>
<rect x="450.39" y="62.0" width="2.82" height="9.95" fill="#94642d"/>
<rect x="453.16" y="62.0" width="2.82" height="9.95" fill="#ab7d44"/>
<rect x="455.93" y="62.0" width="2.82" height="9.95" fill="#94642d"/>
<rect x="431.0" y="74.7" width="27.75" height="9.95" fill="#e6e6e6"/>
<rect x="431.0" y="84.6" width="27.75" height="10.25" fill="#e6e6e6"/>
<rect x="431.0" y="94.8" width="27.75" height="10.25" fill="#e6e6e6"/>
<rect x="431.0" y="106" width="27.7" height="3.7" fill="#4a98a2"/>
<rect x="462.0" y="21.7" width="2.83" height="10.15" fill="#eccea1"/>
<rect x="464.78" y="21.7" width="8.38" height="10.15" fill="#e3c18f"/>
<rect x="473.11" y="21.7" width="2.83" height="10.15" fill="#eccea1"/>
<rect x="475.89" y="21.7" width="11.16" height="10.15" fill="#e3c18f"/>
<rect x="462.0" y="31.8" width="2.83" height="10.05" fill="#c1965e"/>
<rect x="464.78" y="31.8" width="5.61" height="10.05" fill="#d3ac76"/>
<rect x="470.33" y="31.8" width="2.83" height="10.05" fill="#e3c18f"/>
<rect x="473.11" y="31.8" width="11.16" height="10.05" fill="#d3ac76"/>
<rect x="484.22" y="31.8" width="2.83" height="10.05" fill="#e3c18f"/>
<rect x="462.0" y="41.8" width="25.05" height="10.15" fill="#e6e6e6"/>
<rect x="462.0" y="51.9" width="25.05" height="10.15" fill="#fae4c3"/>
<rect x="462.0" y="62.0" width="5.61" height="9.95" fill="#94642d"/>
<rect x="467.56" y="62.0" width="2.83" height="9.95" fill="#e6e6e6"/>
<rect x="470.33" y="62.0" width="2.83" height="9.95" fill="#94642d"/>
<rect x="473.11" y="62.0" width="2.83" height="9.95" fill="#ab7d44"/>
<rect x="475.89" y="62.0" width="2.83" height="9.95" fill="#94642d"/>
<rect x="478.67" y="62.0" width="2.83" height="9.95" fill="#ab7d44"/>
<rect x="481.44" y="62.0" width="5.61" height="9.95" fill="#94642d"/>
<rect x="462.0" y="74.7" width="25.05" height="9.95" fill="#e6e6e6"/>
<rect x="462.0" y="84.6" width="25.05" height="10.25" fill="#e6e6e6"/>
<rect x="462.0" y="94.8" width="25.05" height="10.25" fill="#e6e6e6"/>
<rect x="462.0" y="106" width="25.0" height="3.7" fill="#8c3c9c"/>
</g>
<text x="213.5" y="28.4" font-size="5.6" text-anchor="end" fill="#222" textLength="10.4" lengthAdjust="spacingAndGlyphs" >AST</text>
<text x="213.5" y="39.0" font-size="5.6" text-anchor="end" fill="#222" textLength="9.7" lengthAdjust="spacingAndGlyphs" >ALT</text>
<text x="213.5" y="49.0" font-size="5.6" text-anchor="end" fill="#222" textLength="9.4" lengthAdjust="spacingAndGlyphs" >INR</text>
<text x="213.5" y="58.8" font-size="5.6" text-anchor="end" fill="#222" textLength="21.2" lengthAdjust="spacingAndGlyphs" >Bilirubin</text>
<text x="213.5" y="69.1" font-size="5.6" text-anchor="end" fill="#222" textLength="21.1" lengthAdjust="spacingAndGlyphs" >Albumin</text>
<text x="213.5" y="81.5" font-size="5.6" text-anchor="end" fill="#222" textLength="28" lengthAdjust="spacingAndGlyphs" >Child–Pugh</text>
<text x="213.5" y="92.2" font-size="5.6" text-anchor="end" fill="#222" textLength="15" lengthAdjust="spacingAndGlyphs" >MELD</text>
<text x="213.5" y="102.6" font-size="5.6" text-anchor="end" fill="#222" textLength="11.8" lengthAdjust="spacingAndGlyphs" >ABIC</text>
<text x="230.35" y="114.5" font-size="4.4" text-anchor="middle" fill="#2a2a2a" textLength="28.7" lengthAdjust="spacingAndGlyphs" >Explant AH (11)</text>
<text x="273.45" y="114.5" font-size="4.4" text-anchor="middle" fill="#2a2a2a" textLength="27" lengthAdjust="spacingAndGlyphs" >Severe AH (18)</text>
<text x="317.5" y="114.5" font-size="4.4" text-anchor="middle" fill="#2a2a2a" textLength="35.6" lengthAdjust="spacingAndGlyphs" >Non-severe AH (11)</text>
<text x="352.6" y="114.5" font-size="4.4" text-anchor="middle" fill="#2a2a2a" textLength="24.8" lengthAdjust="spacingAndGlyphs" >Early ASH (12)</text>
<text x="385.8" y="114.5" font-size="4.4" text-anchor="middle" fill="#2a2a2a" textLength="21.8" lengthAdjust="spacingAndGlyphs" >Healthy (10)</text>
<text x="413.2" y="114.3" font-size="4.4" text-anchor="middle" fill="#2a2a2a" textLength="8.6" lengthAdjust="spacingAndGlyphs" >Comp.</text>
<text x="416" y="118.6" font-size="4.4" text-anchor="middle" fill="#2a2a2a" textLength="22.4" lengthAdjust="spacingAndGlyphs" >Cirrhosis (9)</text>
<text x="445.05" y="114.5" font-size="4.4" text-anchor="middle" fill="#2a2a2a" textLength="16.6" lengthAdjust="spacingAndGlyphs" >HCV (10)</text>
<text x="474.7" y="114.5" font-size="4.4" text-anchor="middle" fill="#2a2a2a" textLength="15.4" lengthAdjust="spacingAndGlyphs" >NASH (9)</text>
<defs><linearGradient id="gt"><stop offset="0" stop-color="#fbe3bd"/><stop offset="0.5" stop-color="#d9b078"/><stop offset="1" stop-color="#8a5a22"/></linearGradient><linearGradient id="gr"><stop offset="0" stop-color="#f5c0a8"/><stop offset="0.5" stop-color="#d4805f"/><stop offset="1" stop-color="#98341f"/></linearGradient></defs>
<text x="490" y="20.3" font-size="3.6" text-anchor="start" fill="#333" >Min.</text>
<text x="503.4" y="20.3" font-size="3.6" text-anchor="start" fill="#333" >Max.</text>
<rect x="489" y="22.8" width="23" height="3.2" fill="url(#gt)"/>
<text x="513.3" y="26.2" font-size="4.0" text-anchor="start" fill="#222" >AST (U/L)</text>
<text x="489.3" y="30.1" font-size="3.5" text-anchor="start" fill="#333" >15</text>
<text x="512" y="30.1" font-size="3.5" text-anchor="end" fill="#333" >373</text>
<rect x="489" y="33.0" width="23" height="3.2" fill="url(#gt)"/>
<text x="513.3" y="36.4" font-size="4.0" text-anchor="start" fill="#222" >ALT (U/L)</text>
<text x="489.3" y="40.3" font-size="3.5" text-anchor="start" fill="#333" >2</text>
<text x="512" y="40.3" font-size="3.5" text-anchor="end" fill="#333" >276</text>
<rect x="489" y="43.3" width="23" height="3.2" fill="url(#gt)"/>
<text x="513.3" y="46.7" font-size="4.0" text-anchor="start" fill="#222" >INR</text>
<text x="489.3" y="50.6" font-size="3.5" text-anchor="start" fill="#333" >0.81</text>
<text x="512" y="50.6" font-size="3.5" text-anchor="end" fill="#333" >3.7</text>
<rect x="489" y="53.5" width="23" height="3.2" fill="url(#gt)"/>
<text x="513.3" y="56.9" font-size="4.0" text-anchor="start" fill="#222" >Bilirubin (mg/dL)</text>
<text x="489.3" y="60.8" font-size="3.5" text-anchor="start" fill="#333" >0.2</text>
<text x="512" y="60.8" font-size="3.5" text-anchor="end" fill="#333" >39.1</text>
<rect x="489" y="65.6" width="23" height="3.2" fill="url(#gt)"/>
<text x="513.3" y="69.0" font-size="4.0" text-anchor="start" fill="#222" >Albumin (g/dL)</text>
<text x="489.3" y="72.9" font-size="3.5" text-anchor="start" fill="#333" >14.3</text>
<text x="512" y="72.9" font-size="3.5" text-anchor="end" fill="#333" >52.6</text>
<rect x="489" y="77.0" width="23" height="3.2" fill="url(#gr)"/>
<text x="513.3" y="80.4" font-size="4.0" text-anchor="start" fill="#222" >Child–Pugh</text>
<text x="489.3" y="84.3" font-size="3.5" text-anchor="start" fill="#333" >5</text>
<text x="512" y="84.3" font-size="3.5" text-anchor="end" fill="#333" >14</text>
<rect x="489" y="87.2" width="23" height="3.2" fill="url(#gr)"/>
<text x="513.3" y="90.6" font-size="4.0" text-anchor="start" fill="#222" >MELD</text>
<text x="489.3" y="94.5" font-size="3.5" text-anchor="start" fill="#333" >6</text>
<text x="512" y="94.5" font-size="3.5" text-anchor="end" fill="#333" >41</text>
<rect x="489" y="96.9" width="23" height="3.2" fill="url(#gr)"/>
<text x="513.3" y="100.3" font-size="4.0" text-anchor="start" fill="#222" >ABIC</text>
<text x="489.3" y="104.2" font-size="3.5" text-anchor="start" fill="#333" >4.92</text>
<text x="512" y="104.2" font-size="3.5" text-anchor="end" fill="#333" >11.7</text>
<rect x="489" y="106.2" width="23" height="3.3" fill="#e6e6e6"/>
<text x="513.3" y="109.6" font-size="4.0" text-anchor="start" fill="#222" >No Data or N/A</text>
<filter id="blc" x="-2%" y="-2%" width="104%" height="104%"><feGaussianBlur stdDeviation="0.25 0.5"/></filter>
<g filter="url(#blc)">
<rect x="19.3" y="146.4" width="16.3" height="7.45" fill="#1030ee"/>
<rect x="19.3" y="153.8" width="16.3" height="1.55" fill="#d9cf14"/>
<rect x="19.3" y="155.3" width="16.3" height="3.15" fill="#4a5578"/>
<rect x="19.3" y="158.4" width="16.3" height="4.65" fill="#1030ee"/>
<rect x="19.3" y="163.0" width="16.3" height="1.45" fill="#d9cf14"/>
<rect x="19.3" y="164.4" width="16.3" height="6.05" fill="#1030ee"/>
<rect x="19.3" y="172.0" width="16.3" height="1.05" fill="#0a22c6"/>
<rect x="19.3" y="173.0" width="16.3" height="1.55" fill="#a39a12"/>
<rect x="19.3" y="174.5" width="16.3" height="2.25" fill="#1030ee"/>
<rect x="19.3" y="176.7" width="16.3" height="5.85" fill="#fffb08"/>
<rect x="19.3" y="182.5" width="16.3" height="1.55" fill="#4e4a10"/>
<rect x="19.3" y="184.0" width="16.3" height="1.55" fill="#fffb08"/>
<rect x="19.3" y="185.5" width="16.3" height="2.15" fill="#a39a12"/>
<rect x="19.3" y="187.6" width="16.3" height="2.45" fill="#fffb08"/>
<rect x="19.3" y="190.0" width="16.3" height="1.05" fill="#d9cf14"/>
<rect x="19.3" y="191.0" width="16.3" height="3.05" fill="#fffb08"/>
<rect x="19.3" y="194.0" width="16.3" height="1.05" fill="#4e4a10"/>
<rect x="19.3" y="195.0" width="16.3" height="2.05" fill="#d9cf14"/>
<rect x="19.3" y="197.0" width="16.3" height="1.05" fill="#a39a12"/>
<rect x="19.3" y="198.0" width="16.3" height="16.05" fill="#fffb08"/>
<rect x="19.3" y="214.0" width="16.3" height="0.65" fill="#d9cf14"/>
<rect x="19.3" y="214.6" width="16.3" height="45.05" fill="#fffb08"/>
<rect x="35.5" y="146.4" width="16.8" height="5.15" fill="#1030ee"/>
<rect x="35.5" y="151.5" width="16.8" height="3.15" fill="#0a22c6"/>
<rect x="35.5" y="154.6" width="16.8" height="1.45" fill="#d9cf14"/>
<rect x="35.5" y="156.0" width="16.8" height="2.55" fill="#4a5578"/>
<rect x="35.5" y="158.5" width="16.8" height="5.55" fill="#0a22c6"/>
<rect x="35.5" y="164.0" width="16.8" height="6.45" fill="#1030ee"/>
<rect x="35.5" y="172.0" width="16.8" height="2.05" fill="#fffb08"/>
<rect x="35.5" y="174.0" width="16.8" height="1.05" fill="#a39a12"/>
<rect x="35.5" y="175.0" width="16.8" height="1.55" fill="#08136c"/>
<rect x="35.5" y="176.5" width="16.8" height="1.55" fill="#a39a12"/>
<rect x="35.5" y="178.0" width="16.8" height="1.05" fill="#d9cf14"/>
<rect x="35.5" y="179.0" width="16.8" height="1.45" fill="#a39a12"/>
<rect x="35.5" y="180.4" width="16.8" height="3.65" fill="#0a0b22"/>
<rect x="35.5" y="184.0" width="16.8" height="14.55" fill="#fffb08"/>
<rect x="35.5" y="198.5" width="16.8" height="1.55" fill="#a39a12"/>
<rect x="35.5" y="200.0" width="16.8" height="1.55" fill="#d9cf14"/>
<rect x="35.5" y="201.5" width="16.8" height="1.05" fill="#a39a12"/>
<rect x="35.5" y="202.5" width="16.8" height="1.55" fill="#d9cf14"/>
<rect x="35.5" y="204.0" width="16.8" height="1.85" fill="#fffb08"/>
<rect x="35.5" y="205.8" width="16.8" height="7.55" fill="#08136c"/>
<rect x="35.5" y="213.3" width="16.8" height="1.75" fill="#fffb08"/>
<rect x="35.5" y="215.0" width="16.8" height="1.55" fill="#d9cf14"/>
<rect x="35.5" y="216.5" width="16.8" height="1.55" fill="#a39a12"/>
<rect x="35.5" y="218.0" width="16.8" height="1.55" fill="#d9cf14"/>
<rect x="35.5" y="219.5" width="16.8" height="1.05" fill="#a39a12"/>
<rect x="35.5" y="220.5" width="16.8" height="14.85" fill="#fffb08"/>
<rect x="35.5" y="235.3" width="16.8" height="1.75" fill="#a39a12"/>
<rect x="35.5" y="237.0" width="16.8" height="1.45" fill="#d9cf14"/>
<rect x="35.5" y="238.4" width="16.8" height="2.95" fill="#0a0b22"/>
<rect x="35.5" y="241.3" width="16.8" height="2.75" fill="#fffb08"/>
<rect x="35.5" y="244.0" width="16.8" height="1.65" fill="#a39a12"/>
<rect x="35.5" y="245.6" width="16.8" height="2.25" fill="#4e4a10"/>
<rect x="35.5" y="247.8" width="16.8" height="4.45" fill="#fffb08"/>
<rect x="35.5" y="252.2" width="16.8" height="2.25" fill="#a39a12"/>
<rect x="35.5" y="254.4" width="16.8" height="5.25" fill="#fffb08"/>
<rect x="52.2" y="146.4" width="16.9" height="2.65" fill="#08136c"/>
<rect x="52.2" y="149.0" width="16.9" height="1.55" fill="#0a22c6"/>
<rect x="52.2" y="150.5" width="16.9" height="1.05" fill="#4a5578"/>
<rect x="52.2" y="151.5" width="16.9" height="3.55" fill="#0a22c6"/>
<rect x="52.2" y="155.0" width="16.9" height="1.05" fill="#08136c"/>
<rect x="52.2" y="156.0" width="16.9" height="2.55" fill="#0a22c6"/>
<rect x="52.2" y="158.5" width="16.9" height="1.25" fill="#a39a12"/>
<rect x="52.2" y="159.7" width="16.9" height="0.65" fill="#4e4a10"/>
<rect x="52.2" y="160.3" width="16.9" height="1.25" fill="#a39a12"/>
<rect x="52.2" y="161.5" width="16.9" height="3.05" fill="#4a5578"/>
<rect x="52.2" y="164.5" width="16.9" height="1.05" fill="#4e4a10"/>
<rect x="52.2" y="165.5" width="16.9" height="4.95" fill="#08136c"/>
<rect x="52.2" y="172.0" width="16.9" height="3.05" fill="#fffb08"/>
<rect x="52.2" y="175.0" width="16.9" height="1.55" fill="#a39a12"/>
<rect x="52.2" y="176.5" width="16.9" height="2.05" fill="#08136c"/>
<rect x="52.2" y="178.5" width="16.9" height="1.55" fill="#a39a12"/>
<rect x="52.2" y="180.0" width="16.9" height="3.05" fill="#08136c"/>
<rect x="52.2" y="183.0" width="16.9" height="1.75" fill="#0a0b22"/>
<rect x="52.2" y="184.7" width="16.9" height="4.35" fill="#fffb08"/>
<rect x="52.2" y="189.0" width="16.9" height="1.55" fill="#a39a12"/>
<rect x="52.2" y="190.5" width="16.9" height="1.55" fill="#c6bc14"/>
<rect x="52.2" y="192.0" width="16.9" height="1.55" fill="#a39a12"/>
<rect x="52.2" y="193.5" width="16.9" height="1.55" fill="#4e4a10"/>
<rect x="52.2" y="195.0" width="16.9" height="3.05" fill="#c6bc14"/>
<rect x="52.2" y="198.0" width="16.9" height="2.05" fill="#a39a12"/>
<rect x="52.2" y="200.0" width="16.9" height="3.05" fill="#0a0b22"/>
<rect x="52.2" y="203.0" width="16.9" height="1.05" fill="#4e4a10"/>
<rect x="52.2" y="204.0" width="16.9" height="2.05" fill="#0a0b22"/>
<rect x="52.2" y="206.0" width="16.9" height="7.55" fill="#08136c"/>
<rect x="52.2" y="213.5" width="16.9" height="3.55" fill="#c6bc14"/>
<rect x="52.2" y="217.0" width="16.9" height="2.05" fill="#4e4a10"/>
<rect x="52.2" y="219.0" width="16.9" height="1.05" fill="#a39a12"/>
<rect x="52.2" y="220.0" width="16.9" height="1.05" fill="#4e4a10"/>
<rect x="52.2" y="221.0" width="16.9" height="3.05" fill="#c6bc14"/>
<rect x="52.2" y="224.0" width="16.9" height="2.05" fill="#4e4a10"/>
<rect x="52.2" y="226.0" width="16.9" height="2.05" fill="#c6bc14"/>
<rect x="52.2" y="228.0" width="16.9" height="2.05" fill="#a39a12"/>
<rect x="52.2" y="230.0" width="16.9" height="2.05" fill="#4e4a10"/>
<rect x="52.2" y="232.0" width="16.9" height="3.05" fill="#c6bc14"/>
<rect x="52.2" y="235.0" width="16.9" height="2.05" fill="#4e4a10"/>
<rect x="52.2" y="237.0" width="16.9" height="5.65" fill="#0a0b22"/>
<rect x="52.2" y="242.6" width="16.9" height="2.45" fill="#c6bc14"/>
<rect x="52.2" y="245.0" width="16.9" height="1.55" fill="#4e4a10"/>
<rect x="52.2" y="246.5" width="16.9" height="1.55" fill="#0a0b22"/>
<rect x="52.2" y="248.0" width="16.9" height="4.05" fill="#c6bc14"/>
<rect x="52.2" y="252.0" width="16.9" height="1.65" fill="#a39a12"/>
<rect x="52.2" y="253.6" width="16.9" height="3.95" fill="#0a0b22"/>
<rect x="52.2" y="257.5" width="16.9" height="2.15" fill="#4e4a10"/>
<rect x="69.0" y="146.4" width="17.1" height="1.65" fill="#4e4a10"/>
<rect x="69.0" y="148.0" width="17.1" height="1.55" fill="#0a0b22"/>
<rect x="69.0" y="149.5" width="17.1" height="1.05" fill="#d9cf14"/>
<rect x="69.0" y="150.5" width="17.1" height="3.05" fill="#08136c"/>
<rect x="69.0" y="153.5" width="17.1" height="4.05" fill="#0a22c6"/>
<rect x="69.0" y="157.5" width="17.1" height="1.85" fill="#fffb08"/>
<rect x="69.0" y="159.3" width="17.1" height="0.55" fill="#4e4a10"/>
<rect x="69.0" y="159.8" width="17.1" height="1.75" fill="#fffb08"/>
<rect x="69.0" y="161.5" width="17.1" height="1.55" fill="#a39a12"/>
<rect x="69.0" y="163.0" width="17.1" height="1.55" fill="#4a5578"/>
<rect x="69.0" y="164.5" width="17.1" height="2.55" fill="#a39a12"/>
<rect x="69.0" y="167.0" width="17.1" height="1.55" fill="#4e4a10"/>
<rect x="69.0" y="168.5" width="17.1" height="1.95" fill="#d9cf14"/>
<rect x="69.0" y="172.0" width="17.1" height="1.55" fill="#a39a12"/>
<rect x="69.0" y="173.5" width="17.1" height="2.55" fill="#0a0b22"/>
<rect x="69.0" y="176.0" width="17.1" height="1.05" fill="#a39a12"/>
<rect x="69.0" y="177.0" width="17.1" height="2.05" fill="#0a22c6"/>
<rect x="69.0" y="179.0" width="17.1" height="1.55" fill="#08136c"/>
<rect x="69.0" y="180.5" width="17.1" height="1.55" fill="#0a22c6"/>
<rect x="69.0" y="182.0" width="17.1" height="2.05" fill="#08136c"/>
<rect x="69.0" y="184.0" width="17.1" height="4.45" fill="#4e4a10"/>
<rect x="69.0" y="188.4" width="17.1" height="1.65" fill="#0a0b22"/>
<rect x="69.0" y="190.0" width="17.1" height="3.05" fill="#0a22c6"/>
<rect x="69.0" y="193.0" width="17.1" height="2.05" fill="#08136c"/>
<rect x="69.0" y="195.0" width="17.1" height="3.05" fill="#0a22c6"/>
<rect x="69.0" y="198.0" width="17.1" height="2.05" fill="#08136c"/>
<rect x="69.0" y="200.0" width="17.1" height="4.05" fill="#0a22c6"/>
<rect x="69.0" y="204.0" width="17.1" height="9.05" fill="#08136c"/>
<rect x="69.0" y="213.0" width="17.1" height="3.05" fill="#0a22c6"/>
<rect x="69.0" y="216.0" width="17.1" height="4.55" fill="#4e4a10"/>
<rect x="69.0" y="220.5" width="17.1" height="3.55" fill="#08136c"/>
<rect x="69.0" y="224.0" width="17.1" height="2.05" fill="#0a22c6"/>
<rect x="69.0" y="226.0" width="17.1" height="3.05" fill="#08136c"/>
<rect x="69.0" y="229.0" width="17.1" height="3.05" fill="#0a22c6"/>
<rect x="69.0" y="232.0" width="17.1" height="2.05" fill="#08136c"/>
<rect x="69.0" y="234.0" width="17.1" height="3.05" fill="#0a22c6"/>
<rect x="69.0" y="237.0" width="17.1" height="2.05" fill="#08136c"/>
<rect x="69.0" y="239.0" width="17.1" height="4.05" fill="#0a22c6"/>
<rect x="69.0" y="243.0" width="17.1" height="3.05" fill="#08136c"/>
<rect x="69.0" y="246.0" width="17.1" height="7.05" fill="#0a22c6"/>
<rect x="69.0" y="253.0" width="17.1" height="2.05" fill="#08136c"/>
<rect x="69.0" y="255.0" width="17.1" height="4.65" fill="#0a22c6"/>
<rect x="86.0" y="146.4" width="17.1" height="5.85" fill="#fffb08"/>
<rect x="86.0" y="152.2" width="17.1" height="1.15" fill="#4e4a10"/>
<rect x="86.0" y="153.3" width="17.1" height="1.15" fill="#08136c"/>
<rect x="86.0" y="154.4" width="17.1" height="5.15" fill="#1030ee"/>
<rect x="86.0" y="159.5" width="17.1" height="1.55" fill="#08136c"/>
<rect x="86.0" y="161.0" width="17.1" height="4.05" fill="#4a5578"/>
<rect x="86.0" y="165.0" width="17.1" height="2.05" fill="#a39a12"/>
<rect x="86.0" y="167.0" width="17.1" height="1.55" fill="#d9cf14"/>
<rect x="86.0" y="168.5" width="17.1" height="1.05" fill="#4e4a10"/>
<rect x="86.0" y="169.5" width="17.1" height="0.95" fill="#d9cf14"/>
<rect x="86.0" y="172.0" width="17.1" height="2.05" fill="#4e4a10"/>
<rect x="86.0" y="174.0" width="17.1" height="2.05" fill="#d9cf14"/>
<rect x="86.0" y="176.0" width="17.1" height="1.05" fill="#0a0b22"/>
<rect x="86.0" y="177.0" width="17.1" height="2.05" fill="#fffb08"/>
<rect x="86.0" y="179.0" width="17.1" height="3.05" fill="#a39a12"/>
<rect x="86.0" y="182.0" width="17.1" height="2.05" fill="#fffb08"/>
<rect x="86.0" y="184.0" width="17.1" height="10.55" fill="#1030ee"/>
<rect x="86.0" y="194.5" width="17.1" height="1.05" fill="#8a7e1c"/>
<rect x="86.0" y="195.5" width="17.1" height="3.55" fill="#1030ee"/>
<rect x="86.0" y="199.0" width="17.1" height="1.55" fill="#08136c"/>
<rect x="86.0" y="200.5" width="17.1" height="1.05" fill="#4e4a10"/>
<rect x="86.0" y="201.5" width="17.1" height="1.05" fill="#08136c"/>
<rect x="86.0" y="202.5" width="17.1" height="3.55" fill="#1030ee"/>
<rect x="86.0" y="206.0" width="17.1" height="8.05" fill="#08136c"/>
<rect x="86.0" y="214.0" width="17.1" height="2.05" fill="#0a22c6"/>
<rect x="86.0" y="216.0" width="17.1" height="3.05" fill="#08136c"/>
<rect x="86.0" y="219.0" width="17.1" height="3.05" fill="#0a22c6"/>
<rect x="86.0" y="222.0" width="17.1" height="4.05" fill="#08136c"/>
<rect x="86.0" y="226.0" width="17.1" height="2.05" fill="#0a22c6"/>
<rect x="86.0" y="228.0" width="17.1" height="2.05" fill="#08136c"/>
<rect x="86.0" y="230.0" width="17.1" height="2.05" fill="#0a22c6"/>
<rect x="86.0" y="232.0" width="17.1" height="2.55" fill="#08136c"/>
<rect x="86.0" y="234.5" width="17.1" height="1.05" fill="#8a7e1c"/>
<rect x="86.0" y="235.5" width="17.1" height="2.55" fill="#0a0b22"/>
<rect x="86.0" y="238.0" width="17.1" height="6.05" fill="#08136c"/>
<rect x="86.0" y="244.0" width="17.1" height="9.05" fill="#0a22c6"/>
<rect x="86.0" y="253.0" width="17.1" height="3.05" fill="#08136c"/>
<rect x="86.0" y="256.0" width="17.1" height="3.65" fill="#0a22c6"/>
<rect x="103.0" y="146.4" width="17.0" height="0.65" fill="#4e4a10"/>
<rect x="103.0" y="147.0" width="17.0" height="1.55" fill="#a39a12"/>
<rect x="103.0" y="148.5" width="17.0" height="1.05" fill="#d9cf14"/>
<rect x="103.0" y="149.5" width="17.0" height="2.05" fill="#08136c"/>
<rect x="103.0" y="151.5" width="17.0" height="1.95" fill="#d9cf14"/>
<rect x="103.0" y="153.4" width="17.0" height="0.55" fill="#a39a12"/>
<rect x="103.0" y="153.9" width="17.0" height="3.15" fill="#d9cf14"/>
<rect x="103.0" y="157.0" width="17.0" height="1.35" fill="#0a22c6"/>
<rect x="103.0" y="158.3" width="17.0" height="1.25" fill="#a39a12"/>
<rect x="103.0" y="159.5" width="17.0" height="1.05" fill="#4e4a10"/>
<rect x="103.0" y="160.5" width="17.0" height="2.55" fill="#d9cf14"/>
<rect x="103.0" y="163.0" width="17.0" height="1.55" fill="#08136c"/>
<rect x="103.0" y="164.5" width="17.0" height="1.55" fill="#4e4a10"/>
<rect x="103.0" y="166.0" width="17.0" height="2.05" fill="#a39a12"/>
<rect x="103.0" y="168.0" width="17.0" height="2.45" fill="#d9cf14"/>
<rect x="103.0" y="172.0" width="17.0" height="9.05" fill="#1030ee"/>
<rect x="103.0" y="181.0" width="17.0" height="3.05" fill="#0a1ca2"/>
<rect x="103.0" y="184.0" width="17.0" height="4.05" fill="#1030ee"/>
<rect x="103.0" y="188.0" width="17.0" height="1.55" fill="#4e4a10"/>
<rect x="103.0" y="189.5" width="17.0" height="1.55" fill="#08136c"/>
<rect x="103.0" y="191.0" width="17.0" height="3.05" fill="#0a1ca2"/>
<rect x="103.0" y="194.0" width="17.0" height="3.55" fill="#1030ee"/>
<rect x="103.0" y="197.5" width="17.0" height="1.05" fill="#8a7e1c"/>
<rect x="103.0" y="198.5" width="17.0" height="4.55" fill="#0a22c6"/>
<rect x="103.0" y="203.0" width="17.0" height="3.05" fill="#0a1ca2"/>
<rect x="103.0" y="206.0" width="17.0" height="6.55" fill="#08136c"/>
<rect x="103.0" y="212.5" width="17.0" height="1.05" fill="#8a7e1c"/>
<rect x="103.0" y="213.5" width="17.0" height="8.55" fill="#1030ee"/>
<rect x="103.0" y="222.0" width="17.0" height="2.05" fill="#0a22c6"/>
<rect x="103.0" y="224.0" width="17.0" height="8.05" fill="#1030ee"/>
<rect x="103.0" y="232.0" width="17.0" height="3.05" fill="#0a22c6"/>
<rect x="103.0" y="235.0" width="17.0" height="9.05" fill="#1030ee"/>
<rect x="103.0" y="244.0" width="17.0" height="2.05" fill="#0a22c6"/>
<rect x="103.0" y="246.0" width="17.0" height="13.65" fill="#1030ee"/>
<rect x="119.9" y="146.4" width="16.7" height="1.05" fill="#a39a12"/>
<rect x="119.9" y="147.4" width="16.7" height="0.65" fill="#4e4a10"/>
<rect x="119.9" y="148.0" width="16.7" height="0.55" fill="#a39a12"/>
<rect x="119.9" y="148.5" width="16.7" height="1.55" fill="#d9cf14"/>
<rect x="119.9" y="150.0" width="16.7" height="1.55" fill="#08136c"/>
<rect x="119.9" y="151.5" width="16.7" height="3.35" fill="#fffb08"/>
<rect x="119.9" y="154.8" width="16.7" height="1.25" fill="#a39a12"/>
<rect x="119.9" y="156.0" width="16.7" height="1.05" fill="#4e4a10"/>
<rect x="119.9" y="157.0" width="16.7" height="1.55" fill="#08136c"/>
<rect x="119.9" y="158.5" width="16.7" height="1.55" fill="#a39a12"/>
<rect x="119.9" y="160.0" width="16.7" height="1.05" fill="#4e4a10"/>
<rect x="119.9" y="161.0" width="16.7" height="2.05" fill="#d9cf14"/>
<rect x="119.9" y="163.0" width="16.7" height="2.05" fill="#08136c"/>
<rect x="119.9" y="165.0" width="16.7" height="1.05" fill="#4e4a10"/>
<rect x="119.9" y="166.0" width="16.7" height="1.05" fill="#a39a12"/>
<rect x="119.9" y="167.0" width="16.7" height="3.45" fill="#d9cf14"/>
<rect x="119.9" y="172.0" width="16.7" height="6.05" fill="#1030ee"/>
<rect x="119.9" y="178.0" width="16.7" height="1.55" fill="#0a22c6"/>
<rect x="119.9" y="179.5" width="16.7" height="5.55" fill="#1030ee"/>
<rect x="119.9" y="185.0" width="16.7" height="3.05" fill="#0a1ca2"/>
<rect x="119.9" y="188.0" width="16.7" height="2.05" fill="#1030ee"/>
<rect x="119.9" y="190.0" width="16.7" height="2.05" fill="#0a1ca2"/>
<rect x="119.9" y="192.0" width="16.7" height="5.55" fill="#1030ee"/>
<rect x="119.9" y="197.5" width="16.7" height="1.85" fill="#4e4a10"/>
<rect x="119.9" y="199.3" width="16.7" height="3.75" fill="#0a1ca2"/>
<rect x="119.9" y="203.0" width="16.7" height="3.05" fill="#0a22c6"/>
<rect x="119.9" y="206.0" width="16.7" height="6.55" fill="#08136c"/>
<rect x="119.9" y="212.5" width="16.7" height="1.05" fill="#8a7e1c"/>
<rect x="119.9" y="213.5" width="16.7" height="12.55" fill="#1030ee"/>
<rect x="119.9" y="226.0" width="16.7" height="2.05" fill="#0a22c6"/>
<rect x="119.9" y="228.0" width="16.7" height="10.05" fill="#1030ee"/>
<rect x="119.9" y="238.0" width="16.7" height="2.05" fill="#0a22c6"/>
<rect x="119.9" y="240.0" width="16.7" height="19.65" fill="#1030ee"/>
<rect x="136.6" y="146.4" width="15.9" height="1.15" fill="#4e4a10"/>
<rect x="136.6" y="147.5" width="15.9" height="2.05" fill="#a39a12"/>
<rect x="136.6" y="149.5" width="15.9" height="2.05" fill="#d9cf14"/>
<rect x="136.6" y="151.5" width="15.9" height="2.55" fill="#08136c"/>
<rect x="136.6" y="154.0" width="15.9" height="2.05" fill="#4a5578"/>
<rect x="136.6" y="156.0" width="15.9" height="1.55" fill="#0a22c6"/>
<rect x="136.6" y="157.5" width="15.9" height="1.55" fill="#a39a12"/>
<rect x="136.6" y="159.0" width="15.9" height="1.55" fill="#08136c"/>
<rect x="136.6" y="160.5" width="15.9" height="1.05" fill="#a39a12"/>
<rect x="136.6" y="161.5" width="15.9" height="1.55" fill="#08136c"/>
<rect x="136.6" y="163.0" width="15.9" height="1.05" fill="#a39a12"/>
<rect x="136.6" y="164.0" width="15.9" height="2.55" fill="#d9cf14"/>
<rect x="136.6" y="166.5" width="15.9" height="1.05" fill="#fffb08"/>
<rect x="136.6" y="167.5" width="15.9" height="2.95" fill="#d9cf14"/>
<rect x="136.6" y="172.0" width="15.9" height="2.05" fill="#0a22c6"/>
<rect x="136.6" y="174.0" width="15.9" height="3.05" fill="#4a5578"/>
<rect x="136.6" y="177.0" width="15.9" height="2.05" fill="#08136c"/>
<rect x="136.6" y="179.0" width="15.9" height="2.05" fill="#4e4a10"/>
<rect x="136.6" y="181.0" width="15.9" height="1.55" fill="#08136c"/>
<rect x="136.6" y="182.5" width="15.9" height="1.85" fill="#d9cf14"/>
<rect x="136.6" y="184.3" width="15.9" height="15.75" fill="#1030ee"/>
<rect x="136.6" y="200.0" width="15.9" height="3.05" fill="#0a1ca2"/>
<rect x="136.6" y="203.0" width="15.9" height="3.05" fill="#1030ee"/>
<rect x="136.6" y="206.0" width="15.9" height="4.45" fill="#08136c"/>
<rect x="136.6" y="210.4" width="15.9" height="3.65" fill="#0a0b22"/>
<rect x="136.6" y="214.0" width="15.9" height="18.05" fill="#1030ee"/>
<rect x="136.6" y="232.0" width="15.9" height="4.05" fill="#0a22c6"/>
<rect x="136.6" y="236.0" width="15.9" height="10.05" fill="#1030ee"/>
<rect x="136.6" y="246.0" width="15.9" height="2.05" fill="#0a22c6"/>
<rect x="136.6" y="248.0" width="15.9" height="11.65" fill="#1030ee"/>
</g>
<rect x="35.05" y="146.4" width="1.0" height="113.2" fill="#fff" opacity="0.72"/>
<rect x="51.75" y="146.4" width="1.0" height="113.2" fill="#fff" opacity="0.72"/>
<rect x="68.55" y="146.4" width="1.0" height="113.2" fill="#fff" opacity="0.72"/>
<rect x="85.55" y="146.4" width="1.0" height="113.2" fill="#fff" opacity="0.72"/>
<rect x="102.55" y="146.4" width="1.0" height="113.2" fill="#fff" opacity="0.72"/>
<rect x="119.45" y="146.4" width="1.0" height="113.2" fill="#fff" opacity="0.72"/>
<rect x="136.1" y="146.4" width="1.0" height="113.2" fill="#fff" opacity="0.72"/>
<rect x="18.4" y="145.7" width="134.6" height="114.4" fill="none" stroke="#f0282d" stroke-width="1.4"/>
<rect x="18.4" y="170.3" width="134.6" height="1.5" fill="#f0282d"/>
<rect x="19.3" y="261.7" width="15.4" height="3.5" fill="#f04a2a"/>
<rect x="36.1" y="261.7" width="15.3" height="3.5" fill="#f0905e"/>
<rect x="52.8" y="261.7" width="15.4" height="3.5" fill="#efe032"/>
<rect x="69.6" y="261.7" width="15.6" height="3.5" fill="#72b040"/>
<rect x="86.6" y="261.7" width="15.6" height="3.5" fill="#f28fc0"/>
<rect x="103.6" y="261.7" width="15.5" height="3.5" fill="#7280c2"/>
<rect x="120.5" y="261.7" width="15.2" height="3.5" fill="#52a0a8"/>
<rect x="137.2" y="261.7" width="15.0" height="3.5" fill="#8e409e"/>
<text transform="translate(27.0 270.4) rotate(-32)" font-size="4.9" text-anchor="end" fill="#1c1c1c">Explant AH</text>
<text transform="translate(42.4 270.4) rotate(-32)" font-size="4.9" text-anchor="end" fill="#1c1c1c">Severe AH</text>
<text transform="translate(61.0 270.0) rotate(-32)" font-size="4.9" text-anchor="end" fill="#1c1c1c">Non–severe AH</text>
<text transform="translate(78.6 270.4) rotate(-32)" font-size="4.9" text-anchor="end" fill="#1c1c1c">Early ASH</text>
<text transform="translate(96.2 270.4) rotate(-32)" font-size="4.9" text-anchor="end" fill="#1c1c1c">Healthy</text>
<text transform="translate(114 269.3) rotate(-32)" font-size="4.9" text-anchor="end" fill="#1c1c1c">Compensated</text>
<text transform="translate(88.2 291.4) rotate(-32)" font-size="4.9" text-anchor="start" fill="#1c1c1c">Cirrhosis</text>
<text transform="translate(130.9 271.2) rotate(-32)" font-size="4.9" text-anchor="end" fill="#1c1c1c">HCV</text>
<text transform="translate(147.2 271.2) rotate(-32)" font-size="4.9" text-anchor="end" fill="#1c1c1c">NASH</text>
<g stroke="#9a9a9a" stroke-width="0.3" fill="none">
<path d="M17.8 147.0 H15.9 V148.5 H17.8"/>
<path d="M17.8 148.9 H16.1 V151.3 H17.8"/>
<path d="M17.8 151.5 H16.6 V152.5 H17.8"/>
<path d="M17.8 152.9 H17.0 V154.4 H17.8"/>
<path d="M17.8 154.9 H15.7 V157.7 H17.8"/>
<path d="M17.8 158.3 H16.1 V159.7 H17.8"/>
<path d="M17.8 160.4 H16.4 V162.5 H17.8"/>
<path d="M17.8 163.1 H16.4 V164.3 H17.8"/>
<path d="M17.8 164.8 H14.6 V166.5 H17.8"/>
<path d="M17.8 167.2 H16.3 V169.2 H17.8"/>
<path d="M17.8 170.0 H16.8 V172.5 H17.8"/>
<path d="M17.8 172.5 H15.4 V176.7 H17.8"/>
<path d="M17.8 177.7 H14.5 V182.2 H17.8"/>
<path d="M17.8 182.5 H16.9 V184.3 H17.8"/>
<path d="M17.8 184.9 H15.0 V188.4 H17.8"/>
<path d="M17.8 189.0 H15.2 V191.5 H17.8"/>
<path d="M17.8 192.2 H16.7 V195.6 H17.8"/>
<path d="M17.8 196.3 H16.6 V201.0 H17.8"/>
<path d="M17.8 202.0 H14.7 V205.7 H17.8"/>
<path d="M17.8 206.6 H16.7 V211.4 H17.8"/>
<path d="M17.8 212.1 H14.8 V216.0 H17.8"/>
<path d="M17.8 216.8 H15.0 V220.1 H17.8"/>
<path d="M17.8 220.4 H17.0 V224.8 H17.8"/>
<path d="M17.8 225.0 H15.3 V229.3 H17.8"/>
<path d="M17.8 229.6 H16.4 V231.7 H17.8"/>
<path d="M17.8 232.6 H15.9 V233.8 H17.8"/>
<path d="M17.8 234.1 H15.1 V237.9 H17.8"/>
<path d="M17.8 238.8 H15.6 V243.8 H17.8"/>
<path d="M17.8 244.8 H14.4 V247.0 H17.8"/>
<path d="M17.8 247.7 H14.8 V248.8 H17.8"/>
<path d="M17.8 249.3 H14.6 V252.8 H17.8"/>
<path d="M13.6 150 V165 M13.6 158 H12.8 M13.6 176 V240 M13.6 150 H14.5 M13.6 165 H14.5 M13.6 176 H14.5 M13.6 240 H15 M14 200 Q15 230 17 255"/>
</g>
<defs><linearGradient id="gc"><stop offset="0" stop-color="#0a0aff"/><stop offset="0.25" stop-color="#0606a0"/><stop offset="0.5" stop-color="#000000"/><stop offset="0.75" stop-color="#8a8a00"/><stop offset="1" stop-color="#ffff00"/></linearGradient></defs>
<text x="148.5" y="280.7" font-size="4.9" text-anchor="start" fill="#222" font-weight="bold" textLength="57.8" lengthAdjust="spacingAndGlyphs" >Relative Gene Expression</text>
<rect x="149" y="283.5" width="56" height="4.9" fill="url(#gc)" stroke="#223a8a" stroke-width="0.4"/>
<text x="146.6" y="296.0" font-size="5.4" text-anchor="start" fill="#222" >−1</text>
<text x="177.4" y="296.0" font-size="5.4" text-anchor="middle" fill="#222" >0</text>
<text x="205.2" y="296.0" font-size="5.4" text-anchor="middle" fill="#222" >1</text>
<polygon points="280.3,151 289.5,155.5 299,160.8 311,161.8 318.5,159 324.5,170 329.5,180 331.5,190 333.5,200 333.5,215 334,228 334,237.5 330,249 319.5,255 304,266.2 292,266 284,267.5 279,273 275.5,280.5 270,273.5 262,269 255,272 251.5,264 233.5,257 233,245 223.5,226.5 221.8,208.7 222.5,197.2 222.8,177 238,167.8 252.3,166.5 261.8,164 270.8,159.8" fill="#1e2640"/>
<g stroke="#1e2640" stroke-width="0.55" fill="none" stroke-linecap="round">
<path d="M317.5 157.2L280.3 152.5M317.5 157.2L288.7 156.7M317.5 157.2L271.1 161.3M317.5 157.2L262 165.5M317.5 157.2L252.5 168M317.5 157.2L238.5 169.1M317.5 157.2L298.8 169.5M317.5 157.2L274.8 175.5M317.5 157.2L223.8 177.8M317.5 157.2L296.6 179.3M317.5 157.2L286.2 181.3M317.5 157.2L329 180.5M317.5 157.2L306.6 183.8M317.5 157.2L316 183.5M317.5 157.2L326.2 189M317.5 157.2L309.3 197.7M317.5 157.2L267.6 189M317.5 157.2L276.4 184.3M317.5 157.2L300.3 206.2M317.5 157.2L290 207M317.5 157.2L317.2 210M317.5 157.2L326.6 209.5M317.5 157.2L249.2 183.8M317.5 157.2L239.3 194M317.5 157.2L248.9 194" stroke-width="0.6"/>
<path d="M317.5 157.2L280.3 152.5M317.5 157.2L288.7 156.7" stroke-width="1.3"/>
<path d="M340.5 201.3L329 180.5M340.5 201.3L326.2 189M340.5 201.3L316 183.5M340.5 201.3L309.3 197.7M340.5 201.3L317.2 210M340.5 201.3L326.6 209.5M340.5 201.3L321.9 219.3M340.5 201.3L313.9 230.5M340.5 201.3L300.3 206.2M340.5 201.3L290 207M340.5 201.3L306.6 183.8M340.5 201.3L296.6 179.3M340.5 201.3L304.8 234.4M340.5 201.3L295.4 233.1M340.5 201.3L281.1 208.7M340.5 201.3L262.8 207.9M340.5 201.3L272.1 216.6M340.5 201.3L290.6 224M340.5 201.3L281 229M340.5 201.3L281.5 239.7M340.5 201.3L269.2 242.1M340.5 201.3L278.3 249.2M340.5 201.3L306.4 243.8M340.5 201.3L333.1 237.2" stroke-width="0.55"/>
<path d="M340.5 201.3L329 180.5M340.5 201.3L326.2 189M340.5 201.3L249.2 183.8" stroke-width="1.0"/>
<path d="M350 207L329 180.5M350 207L326.2 189M350 207L340.5 201.3M350 207L326.6 209.5M350 207L317.2 210M350 207L321.9 219.3M350 207L313.9 230.5M350 207L309.3 197.7M350 207L300.3 206.2M350 207L341 228.3M350 207L333.1 237.2M350 207L304.8 234.4M350 207L306.4 243.8M350 207L316 183.5M350 207L290 207M350 207L281.1 208.7M350 207L272.1 216.6M350 207L290.6 224M350 207L281 229M350 207L281.5 239.7M350 207L269.2 242.1M350 207L278.3 249.2M350 207L329 247.9M350 207L318.4 253.6M350 207L308 255.2M350 207L262.8 207.9M350 207L259 216.9" stroke-width="0.55"/>
<path d="M341 228.3L340.5 201.3M341 228.3L350 207M341 228.3L326.6 209.5M341 228.3L321.9 219.3M341 228.3L313.9 230.5M341 228.3L333.1 237.2M341 228.3L304.8 234.4M341 228.3L317.2 210M341 228.3L309.3 197.7M341 228.3L306.4 243.8M341 228.3L329 247.9M341 228.3L318.4 253.6M341 228.3L281 229M341 228.3L290.6 224M341 228.3L272.1 216.6M341 228.3L269.2 242.1M341 228.3L281.5 239.7M341 228.3L290 207M341 228.3L300.3 206.2M341 228.3L308 255.2M341 228.3L278.3 249.2M341 228.3L316 183.5M341 228.3L326.2 189" stroke-width="0.55"/>
<path d="M274.9 279.6L279.4 259.3M274.9 279.6L292.1 264.4M274.9 279.6L302.8 265M274.9 279.6L252.5 262.3M274.9 279.6L255.4 270.5M274.9 279.6L278.3 249.2M274.9 279.6L273 268.6M274.9 279.6L308 255.2" stroke-width="0.6"/>
<path d="M255.4 270.5L252.5 262.3M255.4 270.5L234.3 255.2M255.4 270.5L235.2 245.4M255.4 270.5L250.5 236" stroke-width="0.6"/>
<path d="M223.8 177.8L238.5 169.1M223.8 177.8L252.5 168M223.8 177.8L249.2 183.8M223.8 177.8L239.3 194M223.8 177.8L223.8 197.2M223.8 177.8L223 208.7" stroke-width="0.7"/>
</g>
<g stroke="#dfe3ee" stroke-width="0.35" opacity="0.5" fill="none">
<path d="M225.5 181 L229 200 M226 196 L231 214 M226.5 212 L232 230 M227 229 L236.5 251 M229.5 228 L239.5 251 M232.5 229 L242 250 M236 257.5 L250 263.5 M238.5 254.5 L252 260.5 M227 183 L236 175 M240 258 L252 266 M258 270.5 L272 278 M279 276 L288 268 M300 266 L311 258 M322 253 L330 244 M332 196 L338 214 M333 206 L339 224 M296 160.5 L316 158.6 M300 164 L313 170 M306 163 L320 174 M246 176 L252 190 M230 186 L236 204"/>
</g>
<g>
<circle cx="280.3" cy="152.5" r="4.4" fill="#f6f27c"/>
<text x="280.3" y="153.2" font-size="2.3" font-weight="bold" text-anchor="middle" fill="#2c2c20">NDUFS1</text>
<circle cx="288.7" cy="156.7" r="4.4" fill="#f6f27c"/>
<text x="288.7" y="157.4" font-size="2.3" font-weight="bold" text-anchor="middle" fill="#2c2c20">NDUFA9</text>
<circle cx="317.5" cy="157.2" r="4.4" fill="#f6f27c"/>
<text x="317.5" y="157.9" font-size="2.3" font-weight="bold" text-anchor="middle" fill="#2c2c20">ATP5O</text>
<circle cx="271.1" cy="161.3" r="4.4" fill="#f6f27c"/>
<text x="271.1" y="162.0" font-size="2.3" font-weight="bold" text-anchor="middle" fill="#2c2c20">COX5A</text>
<circle cx="262" cy="165.5" r="4.4" fill="#f6f27c"/>
<text x="262" y="166.2" font-size="2.3" font-weight="bold" text-anchor="middle" fill="#2c2c20">UQCRC1</text>
<circle cx="252.5" cy="168" r="4.4" fill="#f6f27c"/>
<text x="252.5" y="168.7" font-size="2.3" font-weight="bold" text-anchor="middle" fill="#2c2c20">NDUFB5</text>
<circle cx="238.5" cy="169.1" r="4.4" fill="#f6f27c"/>
<text x="238.5" y="169.8" font-size="2.3" font-weight="bold" text-anchor="middle" fill="#2c2c20">SDHB</text>
<circle cx="298.8" cy="169.5" r="4.4" fill="#f6f27c"/>
<text x="298.8" y="170.2" font-size="2.3" font-weight="bold" text-anchor="middle" fill="#2c2c20">CYC1</text>
<circle cx="274.8" cy="175.5" r="4.4" fill="#f6f27c"/>
<text x="274.8" y="176.2" font-size="2.3" font-weight="bold" text-anchor="middle" fill="#2c2c20">NDUFV1</text>
<circle cx="223.8" cy="177.8" r="4.4" fill="#f6f27c"/>
<text x="223.8" y="178.5" font-size="2.3" font-weight="bold" text-anchor="middle" fill="#2c2c20">COX4I1</text>
<circle cx="296.6" cy="179.3" r="4.4" fill="#f6f27c"/>
<text x="296.6" y="180.0" font-size="2.3" font-weight="bold" text-anchor="middle" fill="#2c2c20">ATP5B</text>
<circle cx="286.2" cy="181.3" r="4.4" fill="#f6f27c"/>
<text x="286.2" y="182.0" font-size="2.3" font-weight="bold" text-anchor="middle" fill="#2c2c20">NDUFS3</text>
<circle cx="329" cy="180.5" r="4.4" fill="#f6f27c"/>
<text x="329" y="181.2" font-size="2.3" font-weight="bold" text-anchor="middle" fill="#2c2c20">UQCRB</text>
<circle cx="249.2" cy="183.8" r="4.4" fill="#f6f27c"/>
<text x="249.2" y="184.5" font-size="2.3" font-weight="bold" text-anchor="middle" fill="#2c2c20">NDUFA4</text>
<circle cx="276.4" cy="184.3" r="4.4" fill="#f6f27c"/>
<text x="276.4" y="185.0" font-size="2.3" font-weight="bold" text-anchor="middle" fill="#2c2c20">COX6C</text>
<circle cx="306.6" cy="183.8" r="4.4" fill="#f6f27c"/>
<text x="306.6" y="184.5" font-size="2.3" font-weight="bold" text-anchor="middle" fill="#2c2c20">ATP5C1</text>
<circle cx="316" cy="183.5" r="4.4" fill="#f6f27c"/>
<text x="316" y="184.2" font-size="2.3" font-weight="bold" text-anchor="middle" fill="#2c2c20">NDUFB8</text>
<circle cx="326.2" cy="189" r="4.4" fill="#f6f27c"/>
<text x="326.2" y="189.7" font-size="2.3" font-weight="bold" text-anchor="middle" fill="#2c2c20">SDHA</text>
<circle cx="267.6" cy="189" r="4.4" fill="#f6f27c"/>
<text x="267.6" y="189.7" font-size="2.3" font-weight="bold" text-anchor="middle" fill="#2c2c20">COX7B</text>
<circle cx="239.3" cy="194" r="4.4" fill="#f6f27c"/>
<text x="239.3" y="194.7" font-size="2.3" font-weight="bold" text-anchor="middle" fill="#2c2c20">NDUFS7</text>
<circle cx="248.9" cy="194" r="4.4" fill="#f6f27c"/>
<text x="248.9" y="194.7" font-size="2.3" font-weight="bold" text-anchor="middle" fill="#2c2c20">ATP5F1</text>
<circle cx="223.8" cy="197.2" r="4.4" fill="#f6f27c"/>
<text x="223.8" y="197.9" font-size="2.3" font-weight="bold" text-anchor="middle" fill="#2c2c20">UQCRH</text>
<circle cx="258.2" cy="197.2" r="4.4" fill="#f6f27c"/>
<text x="258.2" y="197.9" font-size="2.3" font-weight="bold" text-anchor="middle" fill="#2c2c20">NDUFA6</text>
<circle cx="309.3" cy="197.7" r="4.4" fill="#f6f27c"/>
<text x="309.3" y="198.4" font-size="2.3" font-weight="bold" text-anchor="middle" fill="#2c2c20">COX6A1</text>
<circle cx="340.5" cy="201.3" r="4.4" fill="#f6f27c"/>
<text x="340.5" y="202.0" font-size="2.3" font-weight="bold" text-anchor="middle" fill="#2c2c20">NDUFB3</text>
<circle cx="253.3" cy="206.2" r="4.4" fill="#f6f27c"/>
<text x="253.3" y="206.9" font-size="2.3" font-weight="bold" text-anchor="middle" fill="#2c2c20">ATP5H</text>
<circle cx="262.8" cy="207.9" r="4.4" fill="#f6f27c"/>
<text x="262.8" y="208.6" font-size="2.3" font-weight="bold" text-anchor="middle" fill="#2c2c20">NDUFS8</text>
<circle cx="223" cy="208.7" r="4.4" fill="#f6f27c"/>
<text x="223" y="209.4" font-size="2.3" font-weight="bold" text-anchor="middle" fill="#2c2c20">SDHC</text>
<circle cx="281.1" cy="208.7" r="4.4" fill="#f6f27c"/>
<text x="281.1" y="209.4" font-size="2.3" font-weight="bold" text-anchor="middle" fill="#2c2c20">COX5B</text>
<circle cx="290" cy="207" r="4.4" fill="#f6f27c"/>
<text x="290" y="207.7" font-size="2.3" font-weight="bold" text-anchor="middle" fill="#2c2c20">NDUFV2</text>
<circle cx="300.3" cy="206.2" r="4.4" fill="#f6f27c"/>
<text x="300.3" y="206.9" font-size="2.3" font-weight="bold" text-anchor="middle" fill="#2c2c20">NDUFS1</text>
<circle cx="350" cy="207" r="4.4" fill="#f6f27c"/>
<text x="350" y="207.7" font-size="2.3" font-weight="bold" text-anchor="middle" fill="#2c2c20">NDUFA9</text>
<circle cx="317.2" cy="210" r="4.4" fill="#f6f27c"/>
<text x="317.2" y="210.7" font-size="2.3" font-weight="bold" text-anchor="middle" fill="#2c2c20">ATP5O</text>
<circle cx="326.6" cy="209.5" r="4.4" fill="#f6f27c"/>
<text x="326.6" y="210.2" font-size="2.3" font-weight="bold" text-anchor="middle" fill="#2c2c20">COX5A</text>
<circle cx="237.4" cy="212.8" r="4.4" fill="#f6f27c"/>
<text x="237.4" y="213.5" font-size="2.3" font-weight="bold" text-anchor="middle" fill="#2c2c20">UQCRC1</text>
<circle cx="259" cy="216.9" r="4.4" fill="#f6f27c"/>
<text x="259" y="217.6" font-size="2.3" font-weight="bold" text-anchor="middle" fill="#2c2c20">NDUFB5</text>
<circle cx="272.1" cy="216.6" r="4.4" fill="#f6f27c"/>
<text x="272.1" y="217.3" font-size="2.3" font-weight="bold" text-anchor="middle" fill="#2c2c20">SDHB</text>
<circle cx="321.9" cy="219.3" r="4.4" fill="#f6f27c"/>
<text x="321.9" y="220.0" font-size="2.3" font-weight="bold" text-anchor="middle" fill="#2c2c20">CYC1</text>
<circle cx="234.9" cy="222" r="4.4" fill="#f6f27c"/>
<text x="234.9" y="222.7" font-size="2.3" font-weight="bold" text-anchor="middle" fill="#2c2c20">NDUFV1</text>
<circle cx="246.1" cy="223" r="4.4" fill="#f6f27c"/>
<text x="246.1" y="223.7" font-size="2.3" font-weight="bold" text-anchor="middle" fill="#2c2c20">COX4I1</text>
<circle cx="224.6" cy="225.7" r="4.4" fill="#f6f27c"/>
<text x="224.6" y="226.4" font-size="2.3" font-weight="bold" text-anchor="middle" fill="#2c2c20">ATP5B</text>
<circle cx="264.8" cy="227" r="4.4" fill="#f6f27c"/>
<text x="264.8" y="227.7" font-size="2.3" font-weight="bold" text-anchor="middle" fill="#2c2c20">NDUFS3</text>
<circle cx="290.6" cy="224" r="4.4" fill="#f6f27c"/>
<text x="290.6" y="224.7" font-size="2.3" font-weight="bold" text-anchor="middle" fill="#2c2c20">UQCRB</text>
<circle cx="281" cy="229" r="4.4" fill="#f6f27c"/>
<text x="281" y="229.7" font-size="2.3" font-weight="bold" text-anchor="middle" fill="#2c2c20">NDUFA4</text>
<circle cx="313.9" cy="230.5" r="4.4" fill="#f6f27c"/>
<text x="313.9" y="231.2" font-size="2.3" font-weight="bold" text-anchor="middle" fill="#2c2c20">COX6C</text>
<circle cx="341" cy="228.3" r="4.4" fill="#c9c9c9" stroke="#9d9d9d" stroke-width="0.3"/>
<text x="341" y="229.0" font-size="2.3" font-weight="bold" text-anchor="middle" fill="#2c2c20">ATP5C1</text>
<circle cx="295.4" cy="233.1" r="4.4" fill="#f6f27c"/>
<text x="295.4" y="233.8" font-size="2.3" font-weight="bold" text-anchor="middle" fill="#2c2c20">NDUFB8</text>
<circle cx="304.8" cy="234.4" r="4.4" fill="#f6f27c"/>
<text x="304.8" y="235.1" font-size="2.3" font-weight="bold" text-anchor="middle" fill="#2c2c20">SDHA</text>
<circle cx="333.1" cy="237.2" r="4.4" fill="#f6f27c"/>
<text x="333.1" y="237.9" font-size="2.3" font-weight="bold" text-anchor="middle" fill="#2c2c20">COX7B</text>
<circle cx="250.5" cy="236" r="4.4" fill="#f6f27c"/>
<text x="250.5" y="236.7" font-size="2.3" font-weight="bold" text-anchor="middle" fill="#2c2c20">NDUFS7</text>
<circle cx="259.3" cy="238" r="4.4" fill="#f6f27c"/>
<text x="259.3" y="238.7" font-size="2.3" font-weight="bold" text-anchor="middle" fill="#2c2c20">ATP5F1</text>
<circle cx="281.5" cy="239.7" r="4.4" fill="#f6f27c"/>
<text x="281.5" y="240.4" font-size="2.3" font-weight="bold" text-anchor="middle" fill="#2c2c20">UQCRH</text>
<circle cx="269.2" cy="242.1" r="4.4" fill="#f6f27c"/>
<text x="269.2" y="242.8" font-size="2.3" font-weight="bold" text-anchor="middle" fill="#2c2c20">NDUFA6</text>
<circle cx="306.4" cy="243.8" r="4.4" fill="#f6f27c"/>
<text x="306.4" y="244.5" font-size="2.3" font-weight="bold" text-anchor="middle" fill="#2c2c20">COX6A1</text>
<circle cx="235.2" cy="245.4" r="4.4" fill="#f6f27c"/>
<text x="235.2" y="246.1" font-size="2.3" font-weight="bold" text-anchor="middle" fill="#2c2c20">NDUFB3</text>
<circle cx="249.7" cy="245.4" r="4.4" fill="#c9c9c9" stroke="#9d9d9d" stroke-width="0.3"/>
<text x="249.7" y="246.1" font-size="2.3" font-weight="bold" text-anchor="middle" fill="#2c2c20">ATP5H</text>
<circle cx="329" cy="247.9" r="4.4" fill="#f6f27c"/>
<text x="329" y="248.6" font-size="2.3" font-weight="bold" text-anchor="middle" fill="#2c2c20">NDUFS8</text>
<circle cx="278.3" cy="249.2" r="4.4" fill="#f6f27c"/>
<text x="278.3" y="249.9" font-size="2.3" font-weight="bold" text-anchor="middle" fill="#2c2c20">SDHC</text>
<circle cx="318.4" cy="253.6" r="4.4" fill="#f6f27c"/>
<text x="318.4" y="254.3" font-size="2.3" font-weight="bold" text-anchor="middle" fill="#2c2c20">COX5B</text>
<circle cx="308" cy="255.2" r="4.4" fill="#f6f27c"/>
<text x="308" y="255.9" font-size="2.3" font-weight="bold" text-anchor="middle" fill="#2c2c20">NDUFV2</text>
<circle cx="234.3" cy="255.2" r="4.4" fill="#f6f27c"/>
<text x="234.3" y="255.9" font-size="2.3" font-weight="bold" text-anchor="middle" fill="#2c2c20">NDUFS1</text>
<circle cx="279.4" cy="259.3" r="4.4" fill="#f6f27c"/>
<text x="279.4" y="260.0" font-size="2.3" font-weight="bold" text-anchor="middle" fill="#2c2c20">NDUFA9</text>
<circle cx="252.5" cy="262.3" r="4.4" fill="#f6f27c"/>
<text x="252.5" y="263.0" font-size="2.3" font-weight="bold" text-anchor="middle" fill="#2c2c20">ATP5O</text>
<circle cx="292.1" cy="264.4" r="4.4" fill="#f6f27c"/>
<text x="292.1" y="265.1" font-size="2.3" font-weight="bold" text-anchor="middle" fill="#2c2c20">COX5A</text>
<circle cx="302.8" cy="265" r="4.4" fill="#f6f27c"/>
<text x="302.8" y="265.7" font-size="2.3" font-weight="bold" text-anchor="middle" fill="#2c2c20">UQCRC1</text>
<circle cx="273" cy="268.6" r="4.4" fill="#c9c9c9" stroke="#9d9d9d" stroke-width="0.3"/>
<text x="273" y="269.3" font-size="2.3" font-weight="bold" text-anchor="middle" fill="#2c2c20">NDUFB5</text>
<circle cx="255.4" cy="270.5" r="4.4" fill="#f6f27c"/>
<text x="255.4" y="271.2" font-size="2.3" font-weight="bold" text-anchor="middle" fill="#2c2c20">SDHB</text>
<circle cx="274.9" cy="279.6" r="4.4" fill="#f6f27c"/>
<text x="274.9" y="280.3" font-size="2.3" font-weight="bold" text-anchor="middle" fill="#2c2c20">CYC1</text>
</g>
<text x="320.6" y="276.9" font-size="5.6" text-anchor="start" fill="#222" textLength="15.6" lengthAdjust="spacingAndGlyphs" >Edges</text>
<defs><linearGradient id="ge"><stop offset="0" stop-color="#c5cad6"/><stop offset="0.5" stop-color="#4a5168"/><stop offset="1" stop-color="#1e2640"/></linearGradient></defs>
<path d="M309 281.7 L343.8 279.4 L343.8 281.3 L309 281.9 Z" fill="url(#ge)"/>
<text x="307.2" y="286.6" font-size="4.4" text-anchor="start" fill="#222" >0.4</text>
<text x="343.2" y="286.6" font-size="4.4" text-anchor="start" fill="#222" >1</text>
<text x="308.8" y="291.7" font-size="4.6" text-anchor="start" fill="#222" textLength="35.5" lengthAdjust="spacingAndGlyphs" >Confidence Score</text>
<g stroke="#1e2640" fill="none" stroke-linecap="round">
<path d="M422.1 177.4L446.9 165.4M431.6 190L446.9 165.4M447.2 191.3L452.5 183.4M447.2 191.3L455.4 177.4M437 196.2L452.5 183.4M446.7 199.8L466.2 194M445.6 207.4L466.2 194M431.6 190L452.5 183.4" stroke-width="0.5" opacity="0.92"/>
<path d="M483.3 187.2L493.6 197M490.7 176.4L510.2 188.4M483.3 187.2L501 196.2M473.4 184L482.5 206.9M466.2 194L482.5 206.9M483.3 187.2L482.5 206.9M490.7 176.4L493.6 197" stroke-width="0.5" opacity="0.92"/>
<path d="M480.8 217.3L446.7 199.8M480.8 217.3L445.6 207.4M480.8 217.3L443.9 216.4M480.8 217.3L466.2 194M480.8 217.3L473.4 184M480.8 217.3L462.8 233.5M480.8 217.3L468.2 241.1M480.8 217.3L471.9 248.6M480.8 217.3L479.1 250M480.8 217.3L460.5 241.5M480.8 217.3L462.8 248.8M480.8 217.3L475.7 258M480.8 217.3L482.5 206.9M480.8 217.3L498.5 206.5M480.8 217.3L513.3 204.9M480.8 217.3L490.7 213.4M480.8 217.3L514.1 213.9M480.8 217.3L529.7 214.2M480.8 217.3L496.1 221M480.8 217.3L526.4 222.1M480.8 217.3L495.2 228.2M480.8 217.3L513.3 229.2" stroke-width="0.5" opacity="0.92"/>
<path d="M445.6 207.4L482.5 206.9M447.2 191.3L482.5 206.9" stroke-width="0.5" opacity="0.92"/>
<path d="M445.6 207.4L462.8 233.5M443.9 216.4L462.8 233.5M444.6 223.8L462.8 233.5M443 232L445 244.2M443 232L452.7 244.7M432.3 236.9L445 244.2M443 232L460.5 241.5M424.1 244.3L444.8 251.6M424.1 244.3L437.2 257.5M416.7 241.3L429.9 260M435.6 222.1L452.7 244.7M444.6 223.8L460.5 241.5M432.3 236.9L444.8 251.6M466.2 194L462.8 233.5M466.2 194L468.2 241.1" stroke-width="0.5" opacity="0.92"/>
<path d="M429.9 260L424.1 244.3M429.9 260L437.2 257.5M429.9 260L447 258.8M429.9 260L435.6 274.7M429.9 260L444.8 251.6M429.9 260L447.4 266M429.9 260L444.2 273.7" stroke-width="0.5" opacity="0.92"/>
<path d="M488 234.8L462.8 233.5M488 234.8L460.5 241.5M488 234.8L468.2 241.1M488 234.8L445 244.2M488 234.8L452.7 244.7M488 234.8L462.8 248.8M488 234.8L471.9 248.6M488 234.8L479.1 250M488 234.8L444.8 251.6M488 234.8L437.2 257.5M488 234.8L447 258.8M488 234.8L460.2 257M488 234.8L475.7 258M488 234.8L447.4 266M488 234.8L454.5 265.2M488 234.8L463.1 264.3M488 234.8L470.4 265.5M488 234.8L478.3 265.7M488 234.8L485.6 265.2M488 234.8L485.2 274M488 234.8L477 277.1" stroke-width="0.5" opacity="1"/>
<path d="M488 234.8L506.7 218.4M488 234.8L496.1 221M488 234.8L516.1 221.3M488 234.8L526.4 222.1M488 234.8L485.9 224.6M488 234.8L495.2 228.2M488 234.8L503.4 228.2M488 234.8L513.3 229.2M488 234.8L521 230.3M488 234.8L529.7 229.8M488 234.8L506.2 235.2M488 234.8L513.3 237.4M488 234.8L528.9 240.2M488 234.8L510.4 245.3" stroke-width="0.48" opacity="0.92"/>
<path d="M496 237.7L462.8 233.5M496 237.7L460.5 241.5M496 237.7L468.2 241.1M496 237.7L445 244.2M496 237.7L452.7 244.7M496 237.7L462.8 248.8M496 237.7L471.9 248.6M496 237.7L479.1 250M496 237.7L444.8 251.6M496 237.7L437.2 257.5M496 237.7L447 258.8M496 237.7L460.2 257M496 237.7L475.7 258M496 237.7L447.4 266M496 237.7L454.5 265.2M496 237.7L463.1 264.3M496 237.7L470.4 265.5M496 237.7L478.3 265.7M496 237.7L485.6 265.2M496 237.7L485.2 274M496 237.7L477 277.1" stroke-width="0.5" opacity="1"/>
<path d="M496 237.7L506.7 218.4M496 237.7L496.1 221M496 237.7L516.1 221.3M496 237.7L526.4 222.1M496 237.7L485.9 224.6M496 237.7L495.2 228.2M496 237.7L503.4 228.2M496 237.7L513.3 229.2M496 237.7L521 230.3M496 237.7L529.7 229.8M496 237.7L506.2 235.2M496 237.7L513.3 237.4M496 237.7L528.9 240.2M496 237.7L510.4 245.3" stroke-width="0.48" opacity="0.92"/>
<path d="M501.1 244L462.8 233.5M501.1 244L460.5 241.5M501.1 244L468.2 241.1M501.1 244L445 244.2M501.1 244L452.7 244.7M501.1 244L462.8 248.8M501.1 244L471.9 248.6M501.1 244L479.1 250M501.1 244L444.8 251.6M501.1 244L437.2 257.5M501.1 244L447 258.8M501.1 244L460.2 257M501.1 244L475.7 258M501.1 244L447.4 266M501.1 244L454.5 265.2M501.1 244L463.1 264.3M501.1 244L470.4 265.5M501.1 244L478.3 265.7M501.1 244L485.6 265.2M501.1 244L485.2 274M501.1 244L477 277.1" stroke-width="0.5" opacity="1"/>
<path d="M501.1 244L506.7 218.4M501.1 244L496.1 221M501.1 244L516.1 221.3M501.1 244L526.4 222.1M501.1 244L485.9 224.6M501.1 244L495.2 228.2M501.1 244L503.4 228.2M501.1 244L513.3 229.2M501.1 244L521 230.3M501.1 244L529.7 229.8M501.1 244L506.2 235.2M501.1 244L513.3 237.4M501.1 244L528.9 240.2M501.1 244L510.4 245.3" stroke-width="0.48" opacity="0.92"/>
<path d="M521.5 243L496.1 221M521.5 243L516.1 221.3M521.5 243L526.4 222.1M521.5 243L485.9 224.6M521.5 243L495.2 228.2M521.5 243L503.4 228.2M521.5 243L513.3 229.2M521.5 243L521 230.3M521.5 243L529.7 229.8M521.5 243L506.2 235.2M521.5 243L513.3 237.4M521.5 243L528.9 240.2M521.5 243L510.4 245.3" stroke-width="0.48" opacity="0.92"/>
<path d="M537.2 210.2L510.8 197M537.2 210.2L520.3 198.7M537.2 210.2L528.9 197M537.2 210.2L482.5 206.9M537.2 210.2L490.3 205.7M537.2 210.2L513.3 204.9M537.2 210.2L524.4 206.5M537.2 210.2L490.7 213.4M537.2 210.2L498.5 213.9M537.2 210.2L514.1 213.9M537.2 210.2L522 213.9M537.2 210.2L529.7 214.2M537.2 210.2L516.1 221.3M537.2 210.2L526.4 222.1" stroke-width="0.48" opacity="0.92"/>
<path d="M537.4 226.6L513.3 204.9M537.4 226.6L524.4 206.5M537.4 226.6L490.7 213.4M537.4 226.6L498.5 213.9M537.4 226.6L514.1 213.9M537.4 226.6L522 213.9M537.4 226.6L529.7 214.2M537.4 226.6L516.1 221.3M537.4 226.6L526.4 222.1M537.4 226.6L513.3 229.2M537.4 226.6L521 230.3M537.4 226.6L529.7 229.8M537.4 226.6L528.9 240.2" stroke-width="0.48" opacity="0.92"/>
<path d="M528.9 240.2L496.1 221M528.9 240.2L516.1 221.3M528.9 240.2L526.4 222.1M528.9 240.2L485.9 224.6M528.9 240.2L495.2 228.2M528.9 240.2L503.4 228.2M528.9 240.2L513.3 229.2M528.9 240.2L521 230.3M528.9 240.2L529.7 229.8M528.9 240.2L506.2 235.2M528.9 240.2L513.3 237.4" stroke-width="0.48" opacity="0.92"/>
<path d="M510.4 245.3L496.1 221M510.4 245.3L516.1 221.3M510.4 245.3L526.4 222.1M510.4 245.3L485.9 224.6M510.4 245.3L495.2 228.2M510.4 245.3L503.4 228.2M510.4 245.3L513.3 229.2M510.4 245.3L521 230.3M510.4 245.3L529.7 229.8M510.4 245.3L506.2 235.2M510.4 245.3L513.3 237.4" stroke-width="0.48" opacity="0.92"/>
<path d="M467.9 292.4L435.6 274.7M467.9 292.4L444.2 273.7M467.9 292.4L454 273.9M467.9 292.4L462.2 271M467.9 292.4L469.2 273M467.9 292.4L477 277.1M467.9 292.4L485.2 274M467.9 292.4L443 280.9M467.9 292.4L452.8 282.5M467.9 292.4L461 281.2M467.9 292.4L468.9 281.2M467.9 292.4L452.8 289.8" stroke-width="0.48" opacity="0.92"/>
<path d="M452.8 289.8L435.6 274.7M452.8 289.8L444.2 273.7M452.8 289.8L454 273.9M452.8 289.8L462.2 271M452.8 289.8L469.2 273M452.8 289.8L477 277.1M452.8 289.8L485.2 274M452.8 289.8L443 280.9M452.8 289.8L452.8 282.5M452.8 289.8L461 281.2M452.8 289.8L468.9 281.2" stroke-width="0.48" opacity="0.92"/>
<path d="M510.2 188.4L493.6 197M510.2 188.4L501 196.2M510.2 188.4L510.8 197M510.2 188.4L520.3 198.7M510.2 188.4L528.9 197M510.2 188.4L482.5 206.9M510.2 188.4L490.3 205.7M510.2 188.4L498.5 206.5M510.2 188.4L506.2 207.8M510.2 188.4L513.3 204.9M510.2 188.4L524.4 206.5" stroke-width="0.45" opacity="0.92"/>
<path d="M406.2 192.1L422.1 177.4M406.2 192.1L421.8 184.8M406.2 192.1L431.6 190M406.2 192.1L422.6 193M406.2 192.1L437 196.2M406.2 192.1L404.6 199.5M406.2 192.1L446.7 199.8M406.2 192.1L412.5 204.4M406.2 192.1L437.7 205.2M406.2 192.1L422.3 207.4M406.2 192.1L411.6 211.8M406.2 192.1L386.2 214.3M406.2 192.1L421 216.7M406.2 192.1L413.4 218.9M406.2 192.1L388.5 221.3M406.2 192.1L435.6 222.1M406.2 192.1L419.2 225.9M406.2 192.1L411 229.5M406.2 192.1L443 232M406.2 192.1L432.3 236.9M406.2 192.1L424.1 244.3" stroke-width="0.48" opacity="0.92"/>
<path d="M414.8 197L422.1 177.4M414.8 197L421.8 184.8M414.8 197L431.6 190M414.8 197L422.6 193M414.8 197L437 196.2M414.8 197L404.6 199.5M414.8 197L446.7 199.8M414.8 197L412.5 204.4M414.8 197L437.7 205.2M414.8 197L422.3 207.4M414.8 197L411.6 211.8M414.8 197L386.2 214.3M414.8 197L421 216.7M414.8 197L413.4 218.9M414.8 197L388.5 221.3M414.8 197L435.6 222.1M414.8 197L419.2 225.9M414.8 197L411 229.5M414.8 197L443 232M414.8 197L432.3 236.9M414.8 197L424.1 244.3" stroke-width="0.48" opacity="0.92"/>
<path d="M395.1 211L422.1 177.4M395.1 211L421.8 184.8M395.1 211L431.6 190M395.1 211L422.6 193M395.1 211L437 196.2M395.1 211L404.6 199.5M395.1 211L446.7 199.8M395.1 211L412.5 204.4M395.1 211L437.7 205.2M395.1 211L422.3 207.4M395.1 211L411.6 211.8M395.1 211L386.2 214.3M395.1 211L421 216.7M395.1 211L413.4 218.9M395.1 211L388.5 221.3M395.1 211L435.6 222.1M395.1 211L419.2 225.9M395.1 211L411 229.5M395.1 211L443 232M395.1 211L432.3 236.9M395.1 211L424.1 244.3" stroke-width="0.48" opacity="0.92"/>
<path d="M418.9 233.6L422.1 177.4M418.9 233.6L421.8 184.8M418.9 233.6L431.6 190M418.9 233.6L422.6 193M418.9 233.6L437 196.2M418.9 233.6L404.6 199.5M418.9 233.6L446.7 199.8M418.9 233.6L412.5 204.4M418.9 233.6L437.7 205.2M418.9 233.6L422.3 207.4M418.9 233.6L411.6 211.8M418.9 233.6L386.2 214.3M418.9 233.6L421 216.7M418.9 233.6L413.4 218.9M418.9 233.6L388.5 221.3M418.9 233.6L435.6 222.1M418.9 233.6L419.2 225.9M418.9 233.6L411 229.5M418.9 233.6L443 232M418.9 233.6L432.3 236.9M418.9 233.6L424.1 244.3" stroke-width="0.48" opacity="0.92"/>
<path d="M386.9 204.1L397.2 198.7M386.9 204.1L404.6 199.5M386.9 204.1L422.3 200.3M386.9 204.1L446.7 199.8M386.9 204.1L386.9 204.1M386.9 204.1L412.5 204.4M386.9 204.1L430 204.8M386.9 204.1L437.7 205.2M386.9 204.1L404.6 206.4M386.9 204.1L422.3 207.4M386.9 204.1L445.6 207.4M386.9 204.1L411.6 211.8M386.9 204.1L403 213.4" stroke-width="0.48" opacity="0.92"/>
<path d="M386.2 214.3L386.9 204.1M386.2 214.3L412.5 204.4M386.2 214.3L430 204.8M386.2 214.3L437.7 205.2M386.2 214.3L404.6 206.4M386.2 214.3L422.3 207.4M386.2 214.3L445.6 207.4M386.2 214.3L411.6 211.8M386.2 214.3L403 213.4M386.2 214.3L386.2 214.3M386.2 214.3L429.2 214.6M386.2 214.3L421 216.7M386.2 214.3L443.9 216.4M386.2 214.3L413.4 218.9M386.2 214.3L403.6 221.3M386.2 214.3L388.5 221.3M386.2 214.3L427.4 222.1" stroke-width="0.48" opacity="0.92"/>
<path d="M388.5 221.3L404.6 206.4M388.5 221.3L422.3 207.4M388.5 221.3L445.6 207.4M388.5 221.3L411.6 211.8M388.5 221.3L403 213.4M388.5 221.3L386.2 214.3M388.5 221.3L429.2 214.6M388.5 221.3L421 216.7M388.5 221.3L443.9 216.4M388.5 221.3L413.4 218.9M388.5 221.3L403.6 221.3M388.5 221.3L388.5 221.3M388.5 221.3L427.4 222.1M388.5 221.3L435.6 222.1M388.5 221.3L444.6 223.8M388.5 221.3L419.2 225.9M388.5 221.3L402.8 228.7" stroke-width="0.48" opacity="0.92"/>
<path d="M424.1 244.3L413.4 218.9M424.1 244.3L403.6 221.3M424.1 244.3L388.5 221.3M424.1 244.3L427.4 222.1M424.1 244.3L435.6 222.1M424.1 244.3L444.6 223.8M424.1 244.3L419.2 225.9M424.1 244.3L402.8 228.7M424.1 244.3L411 229.5M424.1 244.3L429.8 229.2M424.1 244.3L443 232M424.1 244.3L400.3 236.9M424.1 244.3L432.3 236.9" stroke-width="0.48" opacity="0.92"/>
<path d="M416.7 241.3L413.4 218.9M416.7 241.3L403.6 221.3M416.7 241.3L388.5 221.3M416.7 241.3L427.4 222.1M416.7 241.3L435.6 222.1M416.7 241.3L444.6 223.8M416.7 241.3L419.2 225.9M416.7 241.3L402.8 228.7M416.7 241.3L411 229.5M416.7 241.3L429.8 229.2M416.7 241.3L443 232M416.7 241.3L400.3 236.9M416.7 241.3L432.3 236.9" stroke-width="0.48" opacity="0.92"/>
<path d="M400.3 236.9L421 216.7M400.3 236.9L443.9 216.4M400.3 236.9L413.4 218.9M400.3 236.9L403.6 221.3M400.3 236.9L388.5 221.3M400.3 236.9L427.4 222.1M400.3 236.9L435.6 222.1M400.3 236.9L444.6 223.8M400.3 236.9L419.2 225.9M400.3 236.9L402.8 228.7M400.3 236.9L411 229.5M400.3 236.9L429.8 229.2" stroke-width="0.48" opacity="0.92"/>
<path d="M422.1 177.4L407.9 181.8M422.1 177.4L421.8 184.8M422.1 177.4L413.6 190M422.1 177.4L431.6 190M422.1 177.4L447.2 191.3M422.1 177.4L422.6 193M422.1 177.4L429.2 197M422.1 177.4L437 196.2M422.1 177.4L397.2 198.7M422.1 177.4L404.6 199.5M422.1 177.4L422.3 200.3" stroke-width="0.45" opacity="0.92"/>
<path d="M407.9 181.8L421.8 184.8M407.9 181.8L413.6 190M407.9 181.8L431.6 190M407.9 181.8L447.2 191.3M407.9 181.8L422.6 193M407.9 181.8L429.2 197M407.9 181.8L437 196.2M407.9 181.8L397.2 198.7M407.9 181.8L404.6 199.5M407.9 181.8L422.3 200.3M407.9 181.8L446.7 199.8M407.9 181.8L386.9 204.1" stroke-width="0.45" opacity="0.92"/>
<path d="M447.2 191.3L431.6 190M447.2 191.3L447.2 191.3M447.2 191.3L422.6 193M447.2 191.3L429.2 197M447.2 191.3L437 196.2M447.2 191.3L397.2 198.7M447.2 191.3L404.6 199.5M447.2 191.3L422.3 200.3M447.2 191.3L446.7 199.8M447.2 191.3L386.9 204.1M447.2 191.3L412.5 204.4M447.2 191.3L430 204.8M447.2 191.3L437.7 205.2M447.2 191.3L404.6 206.4M447.2 191.3L422.3 207.4M447.2 191.3L445.6 207.4" stroke-width="0.48" opacity="0.92"/>
</g>
<polygon points="386.2,214.3 386.9,204.1 407.9,181.8 422.1,177.4 447.2,191.3 446.7,199.8 444.6,223.8 443,232 424.1,244.3 400.3,236.9 388.5,221.3" fill="#1e2640" stroke="#1e2640" stroke-width="1.5" stroke-linejoin="round"/>
<polygon points="482.5,206.9 493.6,197 510.2,188.4 528.9,197 529.7,214.2 529.7,229.8 528.9,240.2 510.4,245.3 485.9,224.6" fill="#1e2640" stroke="#1e2640" stroke-width="1.5" stroke-linejoin="round"/>
<polygon points="435.6,274.7 437.2,257.5 445,244.2 462.8,233.5 479.1,250 485.6,265.2 485.2,274 452.8,289.8" fill="#1e2640" stroke="#1e2640" stroke-width="1.5" stroke-linejoin="round"/>
<polygon points="446.9,165.4 455.4,153.9 462.8,151.8 480.5,149.5 491,157.7 490.7,176.4" fill="#1e2640" opacity="0.93"/>
<g stroke="#1e2640" stroke-width="0.45" fill="none">
<path d="M490.7 176.4L455.4 153.9M490.7 176.4L462.8 151.8M490.7 176.4L480.5 149.5M490.7 176.4L491 157.7M490.7 176.4L474.3 160.5M490.7 176.4L446.9 165.4M490.7 176.4L464.4 164.6M490.7 176.4L457 167.9M490.7 176.4L472.3 167.5M490.7 176.4L480 167M490.7 176.4L487.4 167.9M490.7 176.4L490.7 176.4M452.5 183.4L462.8 151.8M452.5 183.4L473 151.8M452.5 183.4L474.3 160.5M452.5 183.4L446.9 165.4M452.5 183.4L464.4 164.6M452.5 183.4L457 167.9M452.5 183.4L472.3 167.5M452.5 183.4L480 167M452.5 183.4L487.4 167.9M452.5 183.4L490.7 176.4M473.4 184L455.4 153.9M473.4 184L462.8 151.8M473.4 184L473 151.8M473.4 184L491 157.7M473.4 184L474.3 160.5M473.4 184L446.9 165.4M473.4 184L464.4 164.6M473.4 184L457 167.9M473.4 184L472.3 167.5M483.3 187.2L455.4 153.9M483.3 187.2L462.8 151.8M483.3 187.2L473 151.8M483.3 187.2L480.5 149.5M483.3 187.2L491 157.7M483.3 187.2L474.3 160.5M483.3 187.2L446.9 165.4M483.3 187.2L457 167.9M483.3 187.2L487.4 167.9M483.3 187.2L490.7 176.4M466.2 194L462.8 151.8M466.2 194L480.5 149.5M466.2 194L491 157.7M466.2 194L474.3 160.5M466.2 194L446.9 165.4M466.2 194L464.4 164.6M466.2 194L457 167.9M466.2 194L472.3 167.5M466.2 194L487.4 167.9M466.2 194L490.7 176.4M455.4 177.4L455.4 153.9M455.4 177.4L462.8 151.8M455.4 177.4L473 151.8M455.4 177.4L480.5 149.5M455.4 177.4L491 157.7M455.4 177.4L474.3 160.5M455.4 177.4L446.9 165.4M455.4 177.4L464.4 164.6M455.4 177.4L457 167.9M455.4 177.4L472.3 167.5M455.4 177.4L480 167M455.4 177.4L487.4 167.9M455.4 177.4L490.7 176.4M473.4 177.7L455.4 153.9M473.4 177.7L462.8 151.8M473.4 177.7L491 157.7M473.4 177.7L446.9 165.4M473.4 177.7L464.4 164.6M473.4 177.7L472.3 167.5M473.4 177.7L480 167M473.4 177.7L490.7 176.4"/>
</g>
<circle cx="455.4" cy="153.9" r="3.7" fill="#fb0d0d"/>
<text x="455.4" y="154.5" font-size="2" font-weight="bold" text-anchor="middle" fill="#1e1e1e">POLR2A</text>
<circle cx="462.8" cy="151.8" r="3.7" fill="#fb0d0d"/>
<text x="462.8" y="152.4" font-size="2" font-weight="bold" text-anchor="middle" fill="#1e1e1e">NME1</text>
<circle cx="473" cy="151.8" r="3.7" fill="#fb0d0d"/>
<text x="473" y="152.4" font-size="2" font-weight="bold" text-anchor="middle" fill="#1e1e1e">RRM2</text>
<circle cx="480.5" cy="149.5" r="3.7" fill="#fb0d0d"/>
<text x="480.5" y="150.1" font-size="2" font-weight="bold" text-anchor="middle" fill="#1e1e1e">TYMS</text>
<circle cx="491" cy="157.7" r="3.7" fill="#fb0d0d"/>
<text x="491" y="158.3" font-size="2" font-weight="bold" text-anchor="middle" fill="#1e1e1e">POLR2E</text>
<circle cx="474.3" cy="160.5" r="3.7" fill="#fb0d0d"/>
<text x="474.3" y="161.1" font-size="2" font-weight="bold" text-anchor="middle" fill="#1e1e1e">ADSL</text>
<circle cx="446.9" cy="165.4" r="3.7" fill="#fb0d0d"/>
<text x="446.9" y="166.0" font-size="2" font-weight="bold" text-anchor="middle" fill="#1e1e1e">GART</text>
<circle cx="464.4" cy="164.6" r="3.7" fill="#fb0d0d"/>
<text x="464.4" y="165.2" font-size="2" font-weight="bold" text-anchor="middle" fill="#1e1e1e">ATIC</text>
<circle cx="457" cy="167.9" r="3.7" fill="#fb0d0d"/>
<text x="457" y="168.5" font-size="2" font-weight="bold" text-anchor="middle" fill="#1e1e1e">PRPS1</text>
<circle cx="472.3" cy="167.5" r="3.7" fill="#fb0d0d"/>
<text x="472.3" y="168.1" font-size="2" font-weight="bold" text-anchor="middle" fill="#1e1e1e">IMPDH2</text>
<circle cx="480" cy="167" r="3.7" fill="#fb0d0d"/>
<text x="480" y="167.6" font-size="2" font-weight="bold" text-anchor="middle" fill="#1e1e1e">POLR1C</text>
<circle cx="487.4" cy="167.9" r="3.7" fill="#fb0d0d"/>
<text x="487.4" y="168.5" font-size="2" font-weight="bold" text-anchor="middle" fill="#1e1e1e">NT5E</text>
<circle cx="490.7" cy="176.4" r="3.7" fill="#fb0d0d"/>
<text x="490.7" y="177.0" font-size="2" font-weight="bold" text-anchor="middle" fill="#1e1e1e">POLR2A</text>
<circle cx="452.5" cy="183.4" r="3.7" fill="#fb0d0d"/>
<text x="452.5" y="184.0" font-size="2" font-weight="bold" text-anchor="middle" fill="#1e1e1e">NME1</text>
<circle cx="473.4" cy="184" r="3.7" fill="#fb0d0d"/>
<text x="473.4" y="184.6" font-size="2" font-weight="bold" text-anchor="middle" fill="#1e1e1e">RRM2</text>
<circle cx="483.3" cy="187.2" r="3.7" fill="#fb0d0d"/>
<text x="483.3" y="187.8" font-size="2" font-weight="bold" text-anchor="middle" fill="#1e1e1e">TYMS</text>
<circle cx="466.2" cy="194" r="3.7" fill="#fb0d0d"/>
<text x="466.2" y="194.6" font-size="2" font-weight="bold" text-anchor="middle" fill="#1e1e1e">POLR2E</text>
<circle cx="422.1" cy="177.4" r="3.7" fill="#12c3f4"/>
<text x="422.1" y="178.0" font-size="2" font-weight="bold" text-anchor="middle" fill="#1e1e1e">PIK3CA</text>
<circle cx="407.9" cy="181.8" r="3.7" fill="#12c3f4"/>
<text x="407.9" y="182.4" font-size="2" font-weight="bold" text-anchor="middle" fill="#1e1e1e">INPP5D</text>
<circle cx="421.8" cy="184.8" r="3.7" fill="#12c3f4"/>
<text x="421.8" y="185.4" font-size="2" font-weight="bold" text-anchor="middle" fill="#1e1e1e">PTEN</text>
<circle cx="413.6" cy="190" r="3.7" fill="#12c3f4"/>
<text x="413.6" y="190.6" font-size="2" font-weight="bold" text-anchor="middle" fill="#1e1e1e">PIP4K2A</text>
<circle cx="431.6" cy="190" r="3.7" fill="#12c3f4"/>
<text x="431.6" y="190.6" font-size="2" font-weight="bold" text-anchor="middle" fill="#1e1e1e">PLCG1</text>
<circle cx="447.2" cy="191.3" r="3.7" fill="#12c3f4"/>
<text x="447.2" y="191.9" font-size="2" font-weight="bold" text-anchor="middle" fill="#1e1e1e">SYNJ1</text>
<circle cx="422.6" cy="193" r="3.7" fill="#12c3f4"/>
<text x="422.6" y="193.6" font-size="2" font-weight="bold" text-anchor="middle" fill="#1e1e1e">MTMR2</text>
<circle cx="429.2" cy="197" r="3.7" fill="#12c3f4"/>
<text x="429.2" y="197.6" font-size="2" font-weight="bold" text-anchor="middle" fill="#1e1e1e">PIK3R1</text>
<circle cx="437" cy="196.2" r="3.7" fill="#12c3f4"/>
<text x="437" y="196.8" font-size="2" font-weight="bold" text-anchor="middle" fill="#1e1e1e">INPP4B</text>
<circle cx="397.2" cy="198.7" r="3.7" fill="#12c3f4"/>
<text x="397.2" y="199.3" font-size="2" font-weight="bold" text-anchor="middle" fill="#1e1e1e">PI4KA</text>
<circle cx="404.6" cy="199.5" r="3.7" fill="#12c3f4"/>
<text x="404.6" y="200.1" font-size="2" font-weight="bold" text-anchor="middle" fill="#1e1e1e">PIKFYVE</text>
<circle cx="422.3" cy="200.3" r="3.7" fill="#12c3f4"/>
<text x="422.3" y="200.9" font-size="2" font-weight="bold" text-anchor="middle" fill="#1e1e1e">SACM1L</text>
<circle cx="446.7" cy="199.8" r="3.7" fill="#12c3f4"/>
<text x="446.7" y="200.4" font-size="2" font-weight="bold" text-anchor="middle" fill="#1e1e1e">OCRL</text>
<circle cx="386.9" cy="204.1" r="3.7" fill="#12c3f4"/>
<text x="386.9" y="204.7" font-size="2" font-weight="bold" text-anchor="middle" fill="#1e1e1e">PIK3CA</text>
<circle cx="412.5" cy="204.4" r="3.7" fill="#12c3f4"/>
<text x="412.5" y="205.0" font-size="2" font-weight="bold" text-anchor="middle" fill="#1e1e1e">INPP5D</text>
<circle cx="430" cy="204.8" r="3.7" fill="#12c3f4"/>
<text x="430" y="205.4" font-size="2" font-weight="bold" text-anchor="middle" fill="#1e1e1e">PTEN</text>
<circle cx="437.7" cy="205.2" r="3.7" fill="#12c3f4"/>
<text x="437.7" y="205.8" font-size="2" font-weight="bold" text-anchor="middle" fill="#1e1e1e">PIP4K2A</text>
<circle cx="404.6" cy="206.4" r="3.7" fill="#12c3f4"/>
<text x="404.6" y="207.0" font-size="2" font-weight="bold" text-anchor="middle" fill="#1e1e1e">PLCG1</text>
<circle cx="422.3" cy="207.4" r="3.7" fill="#12c3f4"/>
<text x="422.3" y="208.0" font-size="2" font-weight="bold" text-anchor="middle" fill="#1e1e1e">SYNJ1</text>
<circle cx="445.6" cy="207.4" r="3.7" fill="#12c3f4"/>
<text x="445.6" y="208.0" font-size="2" font-weight="bold" text-anchor="middle" fill="#1e1e1e">MTMR2</text>
<circle cx="411.6" cy="211.8" r="3.7" fill="#12c3f4"/>
<text x="411.6" y="212.4" font-size="2" font-weight="bold" text-anchor="middle" fill="#1e1e1e">PIK3R1</text>
<circle cx="403" cy="213.4" r="3.7" fill="#12c3f4"/>
<text x="403" y="214.0" font-size="2" font-weight="bold" text-anchor="middle" fill="#1e1e1e">INPP4B</text>
<circle cx="386.2" cy="214.3" r="3.7" fill="#12c3f4"/>
<text x="386.2" y="214.9" font-size="2" font-weight="bold" text-anchor="middle" fill="#1e1e1e">PI4KA</text>
<circle cx="429.2" cy="214.6" r="3.7" fill="#12c3f4"/>
<text x="429.2" y="215.2" font-size="2" font-weight="bold" text-anchor="middle" fill="#1e1e1e">PIKFYVE</text>
<circle cx="421" cy="216.7" r="3.7" fill="#12c3f4"/>
<text x="421" y="217.3" font-size="2" font-weight="bold" text-anchor="middle" fill="#1e1e1e">SACM1L</text>
<circle cx="443.9" cy="216.4" r="3.7" fill="#12c3f4"/>
<text x="443.9" y="217.0" font-size="2" font-weight="bold" text-anchor="middle" fill="#1e1e1e">OCRL</text>
<circle cx="413.4" cy="218.9" r="3.7" fill="#12c3f4"/>
<text x="413.4" y="219.5" font-size="2" font-weight="bold" text-anchor="middle" fill="#1e1e1e">PIK3CA</text>
<circle cx="403.6" cy="221.3" r="3.7" fill="#12c3f4"/>
<text x="403.6" y="221.9" font-size="2" font-weight="bold" text-anchor="middle" fill="#1e1e1e">INPP5D</text>
<circle cx="388.5" cy="221.3" r="3.7" fill="#12c3f4"/>
<text x="388.5" y="221.9" font-size="2" font-weight="bold" text-anchor="middle" fill="#1e1e1e">PTEN</text>
<circle cx="427.4" cy="222.1" r="3.7" fill="#12c3f4"/>
<text x="427.4" y="222.7" font-size="2" font-weight="bold" text-anchor="middle" fill="#1e1e1e">PIP4K2A</text>
<circle cx="435.6" cy="222.1" r="3.7" fill="#12c3f4"/>
<text x="435.6" y="222.7" font-size="2" font-weight="bold" text-anchor="middle" fill="#1e1e1e">PLCG1</text>
<circle cx="444.6" cy="223.8" r="3.7" fill="#12c3f4"/>
<text x="444.6" y="224.4" font-size="2" font-weight="bold" text-anchor="middle" fill="#1e1e1e">SYNJ1</text>
<circle cx="419.2" cy="225.9" r="3.7" fill="#12c3f4"/>
<text x="419.2" y="226.5" font-size="2" font-weight="bold" text-anchor="middle" fill="#1e1e1e">MTMR2</text>
<circle cx="402.8" cy="228.7" r="3.7" fill="#12c3f4"/>
<text x="402.8" y="229.3" font-size="2" font-weight="bold" text-anchor="middle" fill="#1e1e1e">PIK3R1</text>
<circle cx="411" cy="229.5" r="3.7" fill="#12c3f4"/>
<text x="411" y="230.1" font-size="2" font-weight="bold" text-anchor="middle" fill="#1e1e1e">INPP4B</text>
<circle cx="429.8" cy="229.2" r="3.7" fill="#12c3f4"/>
<text x="429.8" y="229.8" font-size="2" font-weight="bold" text-anchor="middle" fill="#1e1e1e">PI4KA</text>
<circle cx="443" cy="232" r="3.7" fill="#12c3f4"/>
<text x="443" y="232.6" font-size="2" font-weight="bold" text-anchor="middle" fill="#1e1e1e">PIKFYVE</text>
<circle cx="400.3" cy="236.9" r="3.7" fill="#12c3f4"/>
<text x="400.3" y="237.5" font-size="2" font-weight="bold" text-anchor="middle" fill="#1e1e1e">SACM1L</text>
<circle cx="432.3" cy="236.9" r="3.7" fill="#12c3f4"/>
<text x="432.3" y="237.5" font-size="2" font-weight="bold" text-anchor="middle" fill="#1e1e1e">OCRL</text>
<circle cx="416.7" cy="241.3" r="3.7" fill="#12c3f4"/>
<text x="416.7" y="241.9" font-size="2" font-weight="bold" text-anchor="middle" fill="#1e1e1e">PIK3CA</text>
<circle cx="424.1" cy="244.3" r="3.7" fill="#12c3f4"/>
<text x="424.1" y="244.9" font-size="2" font-weight="bold" text-anchor="middle" fill="#1e1e1e">INPP5D</text>
<circle cx="510.2" cy="188.4" r="3.7" fill="#fba40a"/>
<text x="510.2" y="189.0" font-size="2" font-weight="bold" text-anchor="middle" fill="#1e1e1e">NUP98</text>
<circle cx="493.6" cy="197" r="3.7" fill="#fba40a"/>
<text x="493.6" y="197.6" font-size="2" font-weight="bold" text-anchor="middle" fill="#1e1e1e">NUP62</text>
<circle cx="501" cy="196.2" r="3.7" fill="#fba40a"/>
<text x="501" y="196.8" font-size="2" font-weight="bold" text-anchor="middle" fill="#1e1e1e">NUP153</text>
<circle cx="510.8" cy="197" r="3.7" fill="#fba40a"/>
<text x="510.8" y="197.6" font-size="2" font-weight="bold" text-anchor="middle" fill="#1e1e1e">RANBP2</text>
<circle cx="520.3" cy="198.7" r="3.7" fill="#fba40a"/>
<text x="520.3" y="199.3" font-size="2" font-weight="bold" text-anchor="middle" fill="#1e1e1e">NUP107</text>
<circle cx="528.9" cy="197" r="3.7" fill="#fba40a"/>
<text x="528.9" y="197.6" font-size="2" font-weight="bold" text-anchor="middle" fill="#1e1e1e">NCBP1</text>
<circle cx="482.5" cy="206.9" r="3.7" fill="#fba40a"/>
<text x="482.5" y="207.5" font-size="2" font-weight="bold" text-anchor="middle" fill="#1e1e1e">THOC1</text>
<circle cx="490.3" cy="205.7" r="3.7" fill="#fba40a"/>
<text x="490.3" y="206.3" font-size="2" font-weight="bold" text-anchor="middle" fill="#1e1e1e">NUP85</text>
<circle cx="498.5" cy="206.5" r="3.7" fill="#fba40a"/>
<text x="498.5" y="207.1" font-size="2" font-weight="bold" text-anchor="middle" fill="#1e1e1e">ALYREF</text>
<circle cx="506.2" cy="207.8" r="3.7" fill="#fba40a"/>
<text x="506.2" y="208.4" font-size="2" font-weight="bold" text-anchor="middle" fill="#1e1e1e">NXF1</text>
<circle cx="513.3" cy="204.9" r="3.7" fill="#fba40a"/>
<text x="513.3" y="205.5" font-size="2" font-weight="bold" text-anchor="middle" fill="#1e1e1e">NUP214</text>
<circle cx="524.4" cy="206.5" r="3.7" fill="#fba40a"/>
<text x="524.4" y="207.1" font-size="2" font-weight="bold" text-anchor="middle" fill="#1e1e1e">SRSF1</text>
<circle cx="490.7" cy="213.4" r="3.7" fill="#fba40a"/>
<text x="490.7" y="214.0" font-size="2" font-weight="bold" text-anchor="middle" fill="#1e1e1e">NUP98</text>
<circle cx="498.5" cy="213.9" r="3.7" fill="#fba40a"/>
<text x="498.5" y="214.5" font-size="2" font-weight="bold" text-anchor="middle" fill="#1e1e1e">NUP62</text>
<circle cx="514.1" cy="213.9" r="3.7" fill="#fba40a"/>
<text x="514.1" y="214.5" font-size="2" font-weight="bold" text-anchor="middle" fill="#1e1e1e">NUP153</text>
<circle cx="522" cy="213.9" r="3.7" fill="#fba40a"/>
<text x="522" y="214.5" font-size="2" font-weight="bold" text-anchor="middle" fill="#1e1e1e">RANBP2</text>
<circle cx="529.7" cy="214.2" r="3.7" fill="#fba40a"/>
<text x="529.7" y="214.8" font-size="2" font-weight="bold" text-anchor="middle" fill="#1e1e1e">NUP107</text>
<circle cx="506.7" cy="218.4" r="3.7" fill="#fba40a"/>
<text x="506.7" y="219.0" font-size="2" font-weight="bold" text-anchor="middle" fill="#1e1e1e">NCBP1</text>
<circle cx="496.1" cy="221" r="3.7" fill="#fba40a"/>
<text x="496.1" y="221.6" font-size="2" font-weight="bold" text-anchor="middle" fill="#1e1e1e">THOC1</text>
<circle cx="516.1" cy="221.3" r="3.7" fill="#fba40a"/>
<text x="516.1" y="221.9" font-size="2" font-weight="bold" text-anchor="middle" fill="#1e1e1e">NUP85</text>
<circle cx="526.4" cy="222.1" r="3.7" fill="#fba40a"/>
<text x="526.4" y="222.7" font-size="2" font-weight="bold" text-anchor="middle" fill="#1e1e1e">ALYREF</text>
<circle cx="485.9" cy="224.6" r="3.7" fill="#fba40a"/>
<text x="485.9" y="225.2" font-size="2" font-weight="bold" text-anchor="middle" fill="#1e1e1e">NXF1</text>
<circle cx="495.2" cy="228.2" r="3.7" fill="#fba40a"/>
<text x="495.2" y="228.8" font-size="2" font-weight="bold" text-anchor="middle" fill="#1e1e1e">NUP214</text>
<circle cx="503.4" cy="228.2" r="3.7" fill="#fba40a"/>
<text x="503.4" y="228.8" font-size="2" font-weight="bold" text-anchor="middle" fill="#1e1e1e">SRSF1</text>
<circle cx="513.3" cy="229.2" r="3.7" fill="#fba40a"/>
<text x="513.3" y="229.8" font-size="2" font-weight="bold" text-anchor="middle" fill="#1e1e1e">NUP98</text>
<circle cx="521" cy="230.3" r="3.7" fill="#fba40a"/>
<text x="521" y="230.9" font-size="2" font-weight="bold" text-anchor="middle" fill="#1e1e1e">NUP62</text>
<circle cx="529.7" cy="229.8" r="3.7" fill="#fba40a"/>
<text x="529.7" y="230.4" font-size="2" font-weight="bold" text-anchor="middle" fill="#1e1e1e">NUP153</text>
<circle cx="506.2" cy="235.2" r="3.7" fill="#fba40a"/>
<text x="506.2" y="235.8" font-size="2" font-weight="bold" text-anchor="middle" fill="#1e1e1e">RANBP2</text>
<circle cx="513.3" cy="237.4" r="3.7" fill="#fba40a"/>
<text x="513.3" y="238.0" font-size="2" font-weight="bold" text-anchor="middle" fill="#1e1e1e">NUP107</text>
<circle cx="528.9" cy="240.2" r="3.7" fill="#fba40a"/>
<text x="528.9" y="240.8" font-size="2" font-weight="bold" text-anchor="middle" fill="#1e1e1e">NCBP1</text>
<circle cx="510.4" cy="245.3" r="3.7" fill="#fba40a"/>
<text x="510.4" y="245.9" font-size="2" font-weight="bold" text-anchor="middle" fill="#1e1e1e">THOC1</text>
<circle cx="462.8" cy="233.5" r="3.7" fill="#12d62e"/>
<text x="462.8" y="234.1" font-size="2" font-weight="bold" text-anchor="middle" fill="#1e1e1e">UBE2D1</text>
<circle cx="460.5" cy="241.5" r="3.7" fill="#12d62e"/>
<text x="460.5" y="242.1" font-size="2" font-weight="bold" text-anchor="middle" fill="#1e1e1e">CUL1</text>
<circle cx="468.2" cy="241.1" r="3.7" fill="#12d62e"/>
<text x="468.2" y="241.7" font-size="2" font-weight="bold" text-anchor="middle" fill="#1e1e1e">FBXW7</text>
<circle cx="445" cy="244.2" r="3.7" fill="#12d62e"/>
<text x="445" y="244.8" font-size="2" font-weight="bold" text-anchor="middle" fill="#1e1e1e">RNF4</text>
<circle cx="452.7" cy="244.7" r="3.7" fill="#12d62e"/>
<text x="452.7" y="245.3" font-size="2" font-weight="bold" text-anchor="middle" fill="#1e1e1e">UBA1</text>
<circle cx="462.8" cy="248.8" r="3.7" fill="#12d62e"/>
<text x="462.8" y="249.4" font-size="2" font-weight="bold" text-anchor="middle" fill="#1e1e1e">SKP1</text>
<circle cx="471.9" cy="248.6" r="3.7" fill="#12d62e"/>
<text x="471.9" y="249.2" font-size="2" font-weight="bold" text-anchor="middle" fill="#1e1e1e">UBE2N</text>
<circle cx="479.1" cy="250" r="3.7" fill="#12d62e"/>
<text x="479.1" y="250.6" font-size="2" font-weight="bold" text-anchor="middle" fill="#1e1e1e">HERC2</text>
<circle cx="444.8" cy="251.6" r="3.7" fill="#12d62e"/>
<text x="444.8" y="252.2" font-size="2" font-weight="bold" text-anchor="middle" fill="#1e1e1e">ANAPC1</text>
<circle cx="437.2" cy="257.5" r="3.7" fill="#12d62e"/>
<text x="437.2" y="258.1" font-size="2" font-weight="bold" text-anchor="middle" fill="#1e1e1e">CDC20</text>
<circle cx="447" cy="258.8" r="3.7" fill="#12d62e"/>
<text x="447" y="259.4" font-size="2" font-weight="bold" text-anchor="middle" fill="#1e1e1e">UBE3A</text>
<circle cx="460.2" cy="257" r="3.7" fill="#12d62e"/>
<text x="460.2" y="257.6" font-size="2" font-weight="bold" text-anchor="middle" fill="#1e1e1e">KLHL13</text>
<circle cx="475.7" cy="258" r="3.7" fill="#12d62e"/>
<text x="475.7" y="258.6" font-size="2" font-weight="bold" text-anchor="middle" fill="#1e1e1e">UBE2D1</text>
<circle cx="447.4" cy="266" r="3.7" fill="#12d62e"/>
<text x="447.4" y="266.6" font-size="2" font-weight="bold" text-anchor="middle" fill="#1e1e1e">CUL1</text>
<circle cx="454.5" cy="265.2" r="3.7" fill="#12d62e"/>
<text x="454.5" y="265.8" font-size="2" font-weight="bold" text-anchor="middle" fill="#1e1e1e">FBXW7</text>
<circle cx="463.1" cy="264.3" r="3.7" fill="#12d62e"/>
<text x="463.1" y="264.9" font-size="2" font-weight="bold" text-anchor="middle" fill="#1e1e1e">RNF4</text>
<circle cx="470.4" cy="265.5" r="3.7" fill="#12d62e"/>
<text x="470.4" y="266.1" font-size="2" font-weight="bold" text-anchor="middle" fill="#1e1e1e">UBA1</text>
<circle cx="478.3" cy="265.7" r="3.7" fill="#12d62e"/>
<text x="478.3" y="266.3" font-size="2" font-weight="bold" text-anchor="middle" fill="#1e1e1e">SKP1</text>
<circle cx="485.6" cy="265.2" r="3.7" fill="#12d62e"/>
<text x="485.6" y="265.8" font-size="2" font-weight="bold" text-anchor="middle" fill="#1e1e1e">UBE2N</text>
<circle cx="435.6" cy="274.7" r="3.7" fill="#12d62e"/>
<text x="435.6" y="275.3" font-size="2" font-weight="bold" text-anchor="middle" fill="#1e1e1e">HERC2</text>
<circle cx="444.2" cy="273.7" r="3.7" fill="#12d62e"/>
<text x="444.2" y="274.3" font-size="2" font-weight="bold" text-anchor="middle" fill="#1e1e1e">ANAPC1</text>
<circle cx="454" cy="273.9" r="3.7" fill="#12d62e"/>
<text x="454" y="274.5" font-size="2" font-weight="bold" text-anchor="middle" fill="#1e1e1e">CDC20</text>
<circle cx="462.2" cy="271" r="3.7" fill="#12d62e"/>
<text x="462.2" y="271.6" font-size="2" font-weight="bold" text-anchor="middle" fill="#1e1e1e">UBE3A</text>
<circle cx="469.2" cy="273" r="3.7" fill="#12d62e"/>
<text x="469.2" y="273.6" font-size="2" font-weight="bold" text-anchor="middle" fill="#1e1e1e">KLHL13</text>
<circle cx="477" cy="277.1" r="3.7" fill="#12d62e"/>
<text x="477" y="277.7" font-size="2" font-weight="bold" text-anchor="middle" fill="#1e1e1e">UBE2D1</text>
<circle cx="485.2" cy="274" r="3.7" fill="#12d62e"/>
<text x="485.2" y="274.6" font-size="2" font-weight="bold" text-anchor="middle" fill="#1e1e1e">CUL1</text>
<circle cx="443" cy="280.9" r="3.7" fill="#12d62e"/>
<text x="443" y="281.5" font-size="2" font-weight="bold" text-anchor="middle" fill="#1e1e1e">FBXW7</text>
<circle cx="452.8" cy="282.5" r="3.7" fill="#12d62e"/>
<text x="452.8" y="283.1" font-size="2" font-weight="bold" text-anchor="middle" fill="#1e1e1e">RNF4</text>
<circle cx="461" cy="281.2" r="3.7" fill="#12d62e"/>
<text x="461" y="281.8" font-size="2" font-weight="bold" text-anchor="middle" fill="#1e1e1e">UBA1</text>
<circle cx="468.9" cy="281.2" r="3.7" fill="#12d62e"/>
<text x="468.9" y="281.8" font-size="2" font-weight="bold" text-anchor="middle" fill="#1e1e1e">SKP1</text>
<circle cx="452.8" cy="289.8" r="3.7" fill="#12d62e"/>
<text x="452.8" y="290.4" font-size="2" font-weight="bold" text-anchor="middle" fill="#1e1e1e">UBE2N</text>
<circle cx="455.4" cy="177.4" r="3.7" fill="#d2d2d2" stroke="#a8a8a8" stroke-width="0.3"/>
<text x="455.4" y="178.0" font-size="2" font-weight="bold" text-anchor="middle" fill="#1e1e1e">TP53</text>
<circle cx="473.4" cy="177.7" r="3.7" fill="#d2d2d2" stroke="#a8a8a8" stroke-width="0.3"/>
<text x="473.4" y="178.3" font-size="2" font-weight="bold" text-anchor="middle" fill="#1e1e1e">AKT1</text>
<circle cx="406.2" cy="192.1" r="3.7" fill="#d2d2d2" stroke="#a8a8a8" stroke-width="0.3"/>
<text x="406.2" y="192.7" font-size="2" font-weight="bold" text-anchor="middle" fill="#1e1e1e">MYC</text>
<circle cx="414.8" cy="197" r="3.7" fill="#d2d2d2" stroke="#a8a8a8" stroke-width="0.3"/>
<text x="414.8" y="197.6" font-size="2" font-weight="bold" text-anchor="middle" fill="#1e1e1e">EGFR</text>
<circle cx="395.1" cy="211" r="3.7" fill="#d2d2d2" stroke="#a8a8a8" stroke-width="0.3"/>
<text x="395.1" y="211.6" font-size="2" font-weight="bold" text-anchor="middle" fill="#1e1e1e">JUN</text>
<circle cx="418.9" cy="233.6" r="3.7" fill="#d2d2d2" stroke="#a8a8a8" stroke-width="0.3"/>
<text x="418.9" y="234.2" font-size="2" font-weight="bold" text-anchor="middle" fill="#1e1e1e">SRC</text>
<circle cx="537.2" cy="210.2" r="3.7" fill="#d2d2d2" stroke="#a8a8a8" stroke-width="0.3"/>
<text x="537.2" y="210.8" font-size="2" font-weight="bold" text-anchor="middle" fill="#1e1e1e">HSPA8</text>
<circle cx="480.8" cy="217.3" r="3.7" fill="#d2d2d2" stroke="#a8a8a8" stroke-width="0.3"/>
<text x="480.8" y="217.9" font-size="2" font-weight="bold" text-anchor="middle" fill="#1e1e1e">TP53</text>
<circle cx="537.4" cy="226.6" r="3.7" fill="#d2d2d2" stroke="#a8a8a8" stroke-width="0.3"/>
<text x="537.4" y="227.2" font-size="2" font-weight="bold" text-anchor="middle" fill="#1e1e1e">AKT1</text>
<circle cx="488" cy="234.8" r="3.7" fill="#d2d2d2" stroke="#a8a8a8" stroke-width="0.3"/>
<text x="488" y="235.4" font-size="2" font-weight="bold" text-anchor="middle" fill="#1e1e1e">MYC</text>
<circle cx="496" cy="237.7" r="3.7" fill="#d2d2d2" stroke="#a8a8a8" stroke-width="0.3"/>
<text x="496" y="238.3" font-size="2" font-weight="bold" text-anchor="middle" fill="#1e1e1e">EGFR</text>
<circle cx="521.5" cy="243" r="3.7" fill="#d2d2d2" stroke="#a8a8a8" stroke-width="0.3"/>
<text x="521.5" y="243.6" font-size="2" font-weight="bold" text-anchor="middle" fill="#1e1e1e">JUN</text>
<circle cx="501.1" cy="244" r="3.7" fill="#d2d2d2" stroke="#a8a8a8" stroke-width="0.3"/>
<text x="501.1" y="244.6" font-size="2" font-weight="bold" text-anchor="middle" fill="#1e1e1e">SRC</text>
<circle cx="429.9" cy="260" r="3.7" fill="#d2d2d2" stroke="#a8a8a8" stroke-width="0.3"/>
<text x="429.9" y="260.6" font-size="2" font-weight="bold" text-anchor="middle" fill="#1e1e1e">HSPA8</text>
<circle cx="467.9" cy="292.4" r="3.7" fill="#d2d2d2" stroke="#a8a8a8" stroke-width="0.3"/>
<text x="467.9" y="293.0" font-size="2" font-weight="bold" text-anchor="middle" fill="#1e1e1e">TP53</text>
<text x="368.3" y="236.5" font-size="5.6" text-anchor="start" fill="#222" textLength="15.8" lengthAdjust="spacingAndGlyphs" >Nodes</text>
<circle cx="364.9" cy="245.6" r="4.2" fill="#f7f37a" stroke="#9a9a9a" stroke-width="0.35"/>
<circle cx="364.9" cy="255.8" r="4.2" fill="#fb0d0d" stroke="#9a9a9a" stroke-width="0.35"/>
<circle cx="364.9" cy="266.0" r="4.2" fill="#12c3f4" stroke="#9a9a9a" stroke-width="0.35"/>
<circle cx="364.9" cy="276.0" r="4.2" fill="#12d62e" stroke="#9a9a9a" stroke-width="0.35"/>
<circle cx="364.9" cy="286.2" r="4.2" fill="#fba40a" stroke="#9a9a9a" stroke-width="0.35"/>
<circle cx="364.9" cy="296.5" r="4.2" fill="#d2d2d2" stroke="#9a9a9a" stroke-width="0.35"/>
<text x="370.2" y="244.5" font-size="4.3" text-anchor="start" fill="#222" >Oxidative</text>
<text x="370.2" y="250.3" font-size="4.3" text-anchor="start" fill="#222" textLength="31.4" lengthAdjust="spacingAndGlyphs" >Phosphorylation</text>
<text x="370.2" y="257.3" font-size="4.3" text-anchor="start" fill="#222" textLength="44.8" lengthAdjust="spacingAndGlyphs" >Nucleotide Metabolism</text>
<text x="370.6" y="267.5" font-size="4.3" text-anchor="start" fill="#222" textLength="36.4" lengthAdjust="spacingAndGlyphs" >PtdIns Metabolism</text>
<text x="370.6" y="277.5" font-size="4.3" text-anchor="start" fill="#222" textLength="42.6" lengthAdjust="spacingAndGlyphs" >Protein Ubiquitination</text>
<text x="370.0" y="287.7" font-size="4.3" text-anchor="start" fill="#222" textLength="34" lengthAdjust="spacingAndGlyphs" >mRNA Transport</text>
<text x="370.6" y="298.0" font-size="4.3" text-anchor="start" fill="#222" textLength="44.1" lengthAdjust="spacingAndGlyphs" >Protein not in pathway</text>
</svg>
</body></html>
